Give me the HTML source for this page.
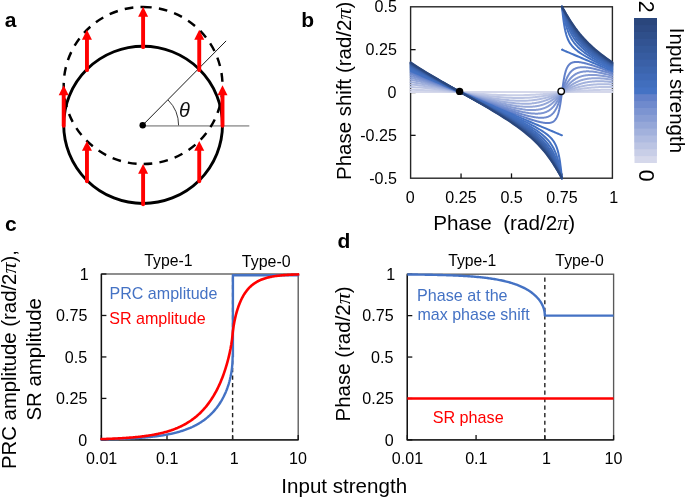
<!DOCTYPE html>
<html lang="en"><head><meta charset="utf-8"><title>Figure</title>
<style>
html,body{margin:0;padding:0;background:#fff;}
body{width:685px;height:498px;overflow:hidden;font-family:"Liberation Sans",sans-serif;}
svg{display:block;}
</style></head><body>
<svg width="685" height="498" viewBox="0 0 685 498">
<rect width="685" height="498" fill="#fff"/>
<g id="pa">
<line x1="142.7" y1="125.9" x2="249.3" y2="125.9" stroke="#a6a6a6" stroke-width="1.7"/>
<line x1="142.7" y1="125.2" x2="226.1" y2="40.9" stroke="#1a1a1a" stroke-width="1"/>
<path d="M178.6 125.4 A35.9 35.9 0 0 0 168.09 100.01" fill="none" stroke="#222" stroke-width="0.9"/>
<ellipse cx="143.1" cy="124.85" rx="79.4" ry="78.6" fill="none" stroke="#000" stroke-width="2.9"/>
<path d="M143.1 6.9 A79.4 78.6 0 1 1 143.1 164.1 A79.4 78.6 0 1 1 143.1 6.9" fill="none" stroke="#000" stroke-width="2.45" stroke-dasharray="8.7 7.2"/>
<circle cx="142.7" cy="125.2" r="3.2" fill="#000"/>
<path d="M222.5 125.75 L222.5 94.35" stroke="#ff0000" stroke-width="3.9" stroke-linecap="round" fill="none"/>
<path d="M217.5 95.25 L222.5 85.35 L227.5 95.25 Z" fill="#ff0000"/>
<path d="M199.24 70.17 L199.24 38.77" stroke="#ff0000" stroke-width="3.9" stroke-linecap="round" fill="none"/>
<path d="M194.24 39.67 L199.24 29.77 L204.24 39.67 Z" fill="#ff0000"/>
<path d="M143.1 47.15 L143.1 15.75" stroke="#ff0000" stroke-width="3.9" stroke-linecap="round" fill="none"/>
<path d="M138.1 16.65 L143.1 6.75 L148.1 16.65 Z" fill="#ff0000"/>
<path d="M86.96 70.17 L86.96 38.77" stroke="#ff0000" stroke-width="3.9" stroke-linecap="round" fill="none"/>
<path d="M81.96 39.67 L86.96 29.77 L91.96 39.67 Z" fill="#ff0000"/>
<path d="M63.7 125.75 L63.7 94.35" stroke="#ff0000" stroke-width="3.9" stroke-linecap="round" fill="none"/>
<path d="M58.7 95.25 L63.7 85.35 L68.7 95.25 Z" fill="#ff0000"/>
<path d="M86.96 181.33 L86.96 149.93" stroke="#ff0000" stroke-width="3.9" stroke-linecap="round" fill="none"/>
<path d="M81.96 150.83 L86.96 140.93 L91.96 150.83 Z" fill="#ff0000"/>
<path d="M143.1 204.35 L143.1 172.95" stroke="#ff0000" stroke-width="3.9" stroke-linecap="round" fill="none"/>
<path d="M138.1 173.85 L143.1 163.95 L148.1 173.85 Z" fill="#ff0000"/>
<path d="M199.24 181.33 L199.24 149.93" stroke="#ff0000" stroke-width="3.9" stroke-linecap="round" fill="none"/>
<path d="M194.24 150.83 L199.24 140.93 L204.24 150.83 Z" fill="#ff0000"/>
</g>
<g id="pb">
<rect x="410.6" y="6.8" width="201.8" height="171.4" fill="none" stroke="#262626" stroke-width="1.4"/>
<line x1="461.05" y1="178.2" x2="461.05" y2="173.4" stroke="#111" stroke-width="1.3"/>
<line x1="511.5" y1="178.2" x2="511.5" y2="173.4" stroke="#111" stroke-width="1.3"/>
<line x1="561.95" y1="178.2" x2="561.95" y2="173.4" stroke="#111" stroke-width="1.3"/>
<line x1="410.6" y1="49.65" x2="415.6" y2="49.65" stroke="#111" stroke-width="1.3"/>
<line x1="410.6" y1="92.5" x2="415.6" y2="92.5" stroke="#111" stroke-width="1.3"/>
<line x1="410.6" y1="135.35" x2="415.6" y2="135.35" stroke="#111" stroke-width="1.3"/>
<g fill="none" stroke-width="2.0" stroke-linecap="round" stroke-linejoin="round">
<line x1="410.6" y1="92.1" x2="612.4" y2="92.1" stroke="#d5d8eb"/>
<polyline stroke="#c8cee7" points="410.6,89.78 413.63,89.82 416.65,89.88 419.68,89.96 422.71,90.06 425.74,90.18 428.76,90.32 431.79,90.47 434.82,90.64 437.84,90.82 440.87,91.02 443.9,91.22 446.92,91.44 449.95,91.66 452.98,91.88 456,92.11 459.03,92.34 462.06,92.58 465.09,92.81 468.11,93.04 471.14,93.27 474.17,93.49 477.19,93.71 480.22,93.91 483.25,94.11 486.27,94.3 489.3,94.47 492.33,94.63 495.36,94.78 498.38,94.9 501.41,95.01 504.44,95.1 507.46,95.16 510.49,95.21 513.52,95.23 516.54,95.23 519.57,95.2 522.6,95.15 525.63,95.07 528.65,94.97 531.68,94.84 532.06,94.82 532.44,94.8 532.82,94.78 533.19,94.77 533.57,94.75 533.95,94.73 534.33,94.71 534.71,94.69 535.09,94.67 535.46,94.64 535.84,94.62 536.22,94.6 536.6,94.58 536.98,94.56 537.36,94.53 537.73,94.51 538.11,94.49 538.49,94.46 538.87,94.44 539.25,94.41 539.63,94.39 540,94.36 540.38,94.34 540.76,94.31 541.14,94.29 541.52,94.26 541.9,94.23 542.27,94.21 542.65,94.18 543.03,94.15 543.41,94.12 543.79,94.09 544.17,94.07 544.54,94.04 544.92,94.01 545.3,93.98 545.68,93.95 546.06,93.92 546.44,93.89 546.82,93.86 547.19,93.83 547.57,93.8 547.95,93.77 548.33,93.73 548.71,93.7 549.09,93.67 549.46,93.64 549.84,93.61 550.22,93.57 550.6,93.54 550.98,93.51 551.36,93.48 551.73,93.44 552.11,93.41 552.49,93.38 552.87,93.34 553.25,93.31 553.63,93.27 554,93.24 554.38,93.21 554.76,93.17 555.14,93.14 555.52,93.1 555.9,93.07 556.27,93.03 556.65,93 557.03,92.96 557.41,92.93 557.79,92.89 558.17,92.86 558.54,92.82 558.92,92.79 559.3,92.75 559.68,92.71 560.06,92.68 560.44,92.64 560.81,92.61 561.19,92.57 561.57,92.54 561.95,92.5 562.33,92.46 562.71,92.43 563.09,92.39 563.46,92.36 563.84,92.32 564.22,92.29 564.6,92.25 564.98,92.21 565.36,92.18 565.73,92.14 566.11,92.11 566.49,92.07 566.87,92.04 567.25,92 567.63,91.97 568,91.93 568.38,91.9 568.76,91.86 569.14,91.83 569.52,91.79 569.9,91.76 570.27,91.73 570.65,91.69 571.03,91.66 571.41,91.62 571.79,91.59 572.17,91.56 572.54,91.52 572.92,91.49 573.3,91.46 573.68,91.43 574.06,91.39 574.44,91.36 574.81,91.33 575.19,91.3 575.57,91.27 575.95,91.23 576.33,91.2 576.71,91.17 577.09,91.14 577.46,91.11 577.84,91.08 578.22,91.05 578.6,91.02 578.98,90.99 579.36,90.96 579.73,90.93 580.11,90.91 580.49,90.88 580.87,90.85 581.25,90.82 581.63,90.79 582,90.77 582.38,90.74 582.76,90.71 583.14,90.69 583.52,90.66 583.9,90.64 584.27,90.61 584.65,90.59 585.03,90.56 585.41,90.54 585.79,90.51 586.17,90.49 586.54,90.47 586.92,90.44 587.3,90.42 587.68,90.4 588.06,90.38 588.44,90.36 588.81,90.33 589.19,90.31 589.57,90.29 589.95,90.27 590.33,90.25 590.71,90.23 591.08,90.22 591.46,90.2 591.84,90.18 592.22,90.16 594.05,90.08 595.89,90.01 597.72,89.95 599.56,89.89 601.39,89.85 603.23,89.82 605.06,89.79 606.9,89.77 608.73,89.77 610.57,89.77 612.4,89.78"/>
<polyline stroke="#bbc4e3" points="410.6,87.12 413.63,87.24 416.65,87.39 419.68,87.59 422.71,87.82 425.74,88.08 428.76,88.37 431.79,88.68 434.82,89.02 437.84,89.38 440.87,89.75 443.9,90.14 446.92,90.54 449.95,90.95 452.98,91.36 456,91.79 459.03,92.21 462.06,92.64 465.09,93.07 468.11,93.5 471.14,93.92 474.17,94.33 477.19,94.73 480.22,95.12 483.25,95.5 486.27,95.86 489.3,96.21 492.33,96.53 495.36,96.82 498.38,97.09 501.41,97.34 504.44,97.54 507.46,97.72 510.49,97.85 513.52,97.94 516.54,97.99 519.57,97.99 522.6,97.93 525.63,97.83 528.65,97.67 531.68,97.45 532.06,97.42 532.44,97.38 532.82,97.35 533.19,97.32 533.57,97.28 533.95,97.24 534.33,97.21 534.71,97.17 535.09,97.13 535.46,97.09 535.84,97.05 536.22,97.01 536.6,96.97 536.98,96.92 537.36,96.88 537.73,96.84 538.11,96.79 538.49,96.74 538.87,96.7 539.25,96.65 539.63,96.6 540,96.55 540.38,96.5 540.76,96.44 541.14,96.39 541.52,96.34 541.9,96.28 542.27,96.23 542.65,96.17 543.03,96.11 543.41,96.06 543.79,96 544.17,95.94 544.54,95.88 544.92,95.82 545.3,95.76 545.68,95.69 546.06,95.63 546.44,95.57 546.82,95.5 547.19,95.44 547.57,95.37 547.95,95.3 548.33,95.24 548.71,95.17 549.09,95.1 549.46,95.03 549.84,94.96 550.22,94.89 550.6,94.82 550.98,94.75 551.36,94.68 551.73,94.6 552.11,94.53 552.49,94.46 552.87,94.38 553.25,94.31 553.63,94.23 554,94.16 554.38,94.08 554.76,94 555.14,93.93 555.52,93.85 555.9,93.77 556.27,93.69 556.65,93.62 557.03,93.54 557.41,93.46 557.79,93.38 558.17,93.3 558.54,93.22 558.92,93.14 559.3,93.06 559.68,92.98 560.06,92.9 560.44,92.82 560.81,92.74 561.19,92.66 561.57,92.58 561.95,92.5 562.33,92.42 562.71,92.34 563.09,92.26 563.46,92.18 563.84,92.1 564.22,92.02 564.6,91.94 564.98,91.86 565.36,91.78 565.73,91.7 566.11,91.62 566.49,91.54 566.87,91.46 567.25,91.38 567.63,91.31 568,91.23 568.38,91.15 568.76,91.07 569.14,91 569.52,90.92 569.9,90.84 570.27,90.77 570.65,90.69 571.03,90.62 571.41,90.54 571.79,90.47 572.17,90.4 572.54,90.32 572.92,90.25 573.3,90.18 573.68,90.11 574.06,90.04 574.44,89.97 574.81,89.9 575.19,89.83 575.57,89.76 575.95,89.7 576.33,89.63 576.71,89.56 577.09,89.5 577.46,89.43 577.84,89.37 578.22,89.31 578.6,89.24 578.98,89.18 579.36,89.12 579.73,89.06 580.11,89 580.49,88.94 580.87,88.89 581.25,88.83 581.63,88.77 582,88.72 582.38,88.66 582.76,88.61 583.14,88.56 583.52,88.5 583.9,88.45 584.27,88.4 584.65,88.35 585.03,88.3 585.41,88.26 585.79,88.21 586.17,88.16 586.54,88.12 586.92,88.08 587.3,88.03 587.68,87.99 588.06,87.95 588.44,87.91 588.81,87.87 589.19,87.83 589.57,87.79 589.95,87.76 590.33,87.72 590.71,87.68 591.08,87.65 591.46,87.62 591.84,87.58 592.22,87.55 594.05,87.41 595.89,87.3 597.72,87.2 599.56,87.12 601.39,87.06 603.23,87.03 605.06,87.01 606.9,87.01 608.73,87.03 610.57,87.06 612.4,87.12"/>
<polyline stroke="#afbbe0" points="410.6,84.55 413.63,84.79 416.65,85.08 419.68,85.41 422.71,85.79 425.74,86.2 428.76,86.64 431.79,87.11 434.82,87.6 437.84,88.12 440.87,88.65 443.9,89.21 446.92,89.77 449.95,90.34 452.98,90.92 456,91.51 459.03,92.1 462.06,92.7 465.09,93.29 468.11,93.88 471.14,94.46 474.17,95.04 477.19,95.61 480.22,96.16 483.25,96.7 486.27,97.23 489.3,97.73 492.33,98.21 495.36,98.66 498.38,99.08 501.41,99.47 504.44,99.82 507.46,100.12 510.49,100.38 513.52,100.58 516.54,100.72 519.57,100.8 522.6,100.8 525.63,100.73 528.65,100.57 531.68,100.32 532.06,100.28 532.44,100.24 532.82,100.2 533.19,100.15 533.57,100.11 533.95,100.06 534.33,100.02 534.71,99.97 535.09,99.91 535.46,99.86 535.84,99.81 536.22,99.75 536.6,99.69 536.98,99.64 537.36,99.57 537.73,99.51 538.11,99.45 538.49,99.38 538.87,99.31 539.25,99.24 539.63,99.17 540,99.1 540.38,99.03 540.76,98.95 541.14,98.87 541.52,98.79 541.9,98.71 542.27,98.63 542.65,98.55 543.03,98.46 543.41,98.37 543.79,98.28 544.17,98.19 544.54,98.1 544.92,98.01 545.3,97.91 545.68,97.81 546.06,97.72 546.44,97.62 546.82,97.51 547.19,97.41 547.57,97.31 547.95,97.2 548.33,97.09 548.71,96.98 549.09,96.87 549.46,96.76 549.84,96.65 550.22,96.53 550.6,96.41 550.98,96.3 551.36,96.18 551.73,96.06 552.11,95.94 552.49,95.82 552.87,95.69 553.25,95.57 553.63,95.44 554,95.32 554.38,95.19 554.76,95.06 555.14,94.93 555.52,94.8 555.9,94.67 556.27,94.54 556.65,94.41 557.03,94.27 557.41,94.14 557.79,94 558.17,93.87 558.54,93.73 558.92,93.6 559.3,93.46 559.68,93.32 560.06,93.19 560.44,93.05 560.81,92.91 561.19,92.78 561.57,92.64 561.95,92.5 562.33,92.36 562.71,92.22 563.09,92.09 563.46,91.95 563.84,91.81 564.22,91.68 564.6,91.54 564.98,91.4 565.36,91.27 565.73,91.13 566.11,91 566.49,90.86 566.87,90.73 567.25,90.59 567.63,90.46 568,90.33 568.38,90.2 568.76,90.07 569.14,89.94 569.52,89.81 569.9,89.68 570.27,89.56 570.65,89.43 571.03,89.31 571.41,89.18 571.79,89.06 572.17,88.94 572.54,88.82 572.92,88.7 573.3,88.59 573.68,88.47 574.06,88.35 574.44,88.24 574.81,88.13 575.19,88.02 575.57,87.91 575.95,87.8 576.33,87.69 576.71,87.59 577.09,87.49 577.46,87.38 577.84,87.28 578.22,87.19 578.6,87.09 578.98,86.99 579.36,86.9 579.73,86.81 580.11,86.72 580.49,86.63 580.87,86.54 581.25,86.45 581.63,86.37 582,86.29 582.38,86.21 582.76,86.13 583.14,86.05 583.52,85.97 583.9,85.9 584.27,85.83 584.65,85.76 585.03,85.69 585.41,85.62 585.79,85.55 586.17,85.49 586.54,85.43 586.92,85.36 587.3,85.31 587.68,85.25 588.06,85.19 588.44,85.14 588.81,85.09 589.19,85.03 589.57,84.98 589.95,84.94 590.33,84.89 590.71,84.85 591.08,84.8 591.46,84.76 591.84,84.72 592.22,84.68 594.05,84.52 595.89,84.39 597.72,84.29 599.56,84.23 601.39,84.19 603.23,84.19 605.06,84.21 606.9,84.26 608.73,84.33 610.57,84.43 612.4,84.55"/>
<polyline stroke="#a2b1dc" points="410.6,82.12 413.63,82.5 416.65,82.94 419.68,83.42 422.71,83.95 425.74,84.51 428.76,85.1 431.79,85.72 434.82,86.36 437.84,87.02 440.87,87.7 443.9,88.4 446.92,89.11 449.95,89.82 452.98,90.55 456,91.28 459.03,92.01 462.06,92.74 465.09,93.48 468.11,94.21 471.14,94.94 474.17,95.66 477.19,96.37 480.22,97.07 483.25,97.75 486.27,98.42 489.3,99.07 492.33,99.7 495.36,100.3 498.38,100.87 501.41,101.41 504.44,101.9 507.46,102.36 510.49,102.76 513.52,103.1 516.54,103.38 519.57,103.58 522.6,103.7 525.63,103.72 528.65,103.63 531.68,103.42 532.06,103.38 532.44,103.34 532.82,103.3 533.19,103.26 533.57,103.22 533.95,103.17 534.33,103.12 534.71,103.07 535.09,103.01 535.46,102.96 535.84,102.9 536.22,102.83 536.6,102.77 536.98,102.7 537.36,102.63 537.73,102.56 538.11,102.49 538.49,102.41 538.87,102.33 539.25,102.25 539.63,102.16 540,102.07 540.38,101.98 540.76,101.89 541.14,101.79 541.52,101.69 541.9,101.59 542.27,101.49 542.65,101.38 543.03,101.27 543.41,101.15 543.79,101.04 544.17,100.92 544.54,100.8 544.92,100.67 545.3,100.54 545.68,100.41 546.06,100.28 546.44,100.14 546.82,100 547.19,99.86 547.57,99.71 547.95,99.57 548.33,99.41 548.71,99.26 549.09,99.1 549.46,98.94 549.84,98.78 550.22,98.62 550.6,98.45 550.98,98.28 551.36,98.11 551.73,97.93 552.11,97.75 552.49,97.57 552.87,97.39 553.25,97.2 553.63,97.02 554,96.83 554.38,96.64 554.76,96.44 555.14,96.25 555.52,96.05 555.9,95.85 556.27,95.65 556.65,95.45 557.03,95.24 557.41,95.04 557.79,94.83 558.17,94.62 558.54,94.41 558.92,94.2 559.3,93.99 559.68,93.78 560.06,93.57 560.44,93.36 560.81,93.14 561.19,92.93 561.57,92.71 561.95,92.5 562.33,92.29 562.71,92.07 563.09,91.86 563.46,91.64 563.84,91.43 564.22,91.22 564.6,91.01 564.98,90.8 565.36,90.59 565.73,90.38 566.11,90.17 566.49,89.96 566.87,89.76 567.25,89.55 567.63,89.35 568,89.15 568.38,88.95 568.76,88.75 569.14,88.56 569.52,88.36 569.9,88.17 570.27,87.98 570.65,87.8 571.03,87.61 571.41,87.43 571.79,87.25 572.17,87.07 572.54,86.89 572.92,86.72 573.3,86.55 573.68,86.38 574.06,86.22 574.44,86.06 574.81,85.9 575.19,85.74 575.57,85.59 575.95,85.43 576.33,85.29 576.71,85.14 577.09,85 577.46,84.86 577.84,84.72 578.22,84.59 578.6,84.46 578.98,84.33 579.36,84.2 579.73,84.08 580.11,83.96 580.49,83.85 580.87,83.73 581.25,83.62 581.63,83.51 582,83.41 582.38,83.31 582.76,83.21 583.14,83.11 583.52,83.02 583.9,82.93 584.27,82.84 584.65,82.75 585.03,82.67 585.41,82.59 585.79,82.51 586.17,82.44 586.54,82.37 586.92,82.3 587.3,82.23 587.68,82.17 588.06,82.1 588.44,82.04 588.81,81.99 589.19,81.93 589.57,81.88 589.95,81.83 590.33,81.78 590.71,81.74 591.08,81.7 591.46,81.66 591.84,81.62 592.22,81.58 594.05,81.44 595.89,81.34 597.72,81.29 599.56,81.27 601.39,81.3 603.23,81.36 605.06,81.46 606.9,81.58 608.73,81.74 610.57,81.92 612.4,82.12"/>
<polyline stroke="#95a7d8" points="410.6,79.85 413.63,80.39 416.65,80.99 419.68,81.62 422.71,82.29 425.74,83 428.76,83.73 431.79,84.49 434.82,85.27 437.84,86.06 440.87,86.87 443.9,87.7 446.92,88.53 449.95,89.37 452.98,90.22 456,91.07 459.03,91.93 462.06,92.79 465.09,93.64 468.11,94.5 471.14,95.35 474.17,96.19 477.19,97.03 480.22,97.85 483.25,98.67 486.27,99.47 489.3,100.25 492.33,101.02 495.36,101.76 498.38,102.47 501.41,103.16 504.44,103.81 507.46,104.41 510.49,104.97 513.52,105.48 516.54,105.92 519.57,106.28 522.6,106.56 525.63,106.73 528.65,106.78 531.68,106.69 532.06,106.67 532.44,106.64 532.82,106.62 533.19,106.58 533.57,106.55 533.95,106.51 534.33,106.48 534.71,106.43 535.09,106.39 535.46,106.34 535.84,106.29 536.22,106.23 536.6,106.17 536.98,106.11 537.36,106.05 537.73,105.98 538.11,105.9 538.49,105.83 538.87,105.75 539.25,105.66 539.63,105.58 540,105.49 540.38,105.39 540.76,105.29 541.14,105.19 541.52,105.08 541.9,104.97 542.27,104.85 542.65,104.73 543.03,104.61 543.41,104.48 543.79,104.34 544.17,104.2 544.54,104.06 544.92,103.91 545.3,103.76 545.68,103.6 546.06,103.44 546.44,103.27 546.82,103.1 547.19,102.92 547.57,102.74 547.95,102.55 548.33,102.36 548.71,102.16 549.09,101.96 549.46,101.75 549.84,101.54 550.22,101.32 550.6,101.1 550.98,100.87 551.36,100.63 551.73,100.4 552.11,100.15 552.49,99.9 552.87,99.65 553.25,99.39 553.63,99.13 554,98.86 554.38,98.59 554.76,98.32 555.14,98.04 555.52,97.75 555.9,97.47 556.27,97.18 556.65,96.88 557.03,96.58 557.41,96.28 557.79,95.98 558.17,95.67 558.54,95.36 558.92,95.05 559.3,94.73 559.68,94.42 560.06,94.1 560.44,93.78 560.81,93.46 561.19,93.14 561.57,92.82 561.95,92.5 562.33,92.18 562.71,91.86 563.09,91.54 563.46,91.22 563.84,90.9 564.22,90.58 564.6,90.27 564.98,89.95 565.36,89.64 565.73,89.33 566.11,89.02 566.49,88.72 566.87,88.42 567.25,88.12 567.63,87.82 568,87.53 568.38,87.25 568.76,86.96 569.14,86.68 569.52,86.41 569.9,86.14 570.27,85.87 570.65,85.61 571.03,85.35 571.41,85.1 571.79,84.85 572.17,84.6 572.54,84.37 572.92,84.13 573.3,83.9 573.68,83.68 574.06,83.46 574.44,83.25 574.81,83.04 575.19,82.84 575.57,82.64 575.95,82.45 576.33,82.26 576.71,82.08 577.09,81.9 577.46,81.73 577.84,81.56 578.22,81.4 578.6,81.24 578.98,81.09 579.36,80.94 579.73,80.8 580.11,80.66 580.49,80.52 580.87,80.39 581.25,80.27 581.63,80.15 582,80.03 582.38,79.92 582.76,79.81 583.14,79.71 583.52,79.61 583.9,79.51 584.27,79.42 584.65,79.34 585.03,79.25 585.41,79.17 585.79,79.1 586.17,79.02 586.54,78.95 586.92,78.89 587.3,78.83 587.68,78.77 588.06,78.71 588.44,78.66 588.81,78.61 589.19,78.57 589.57,78.52 589.95,78.49 590.33,78.45 590.71,78.42 591.08,78.38 591.46,78.36 591.84,78.33 592.22,78.31 594.05,78.24 595.89,78.22 597.72,78.25 599.56,78.33 601.39,78.45 603.23,78.61 605.06,78.8 606.9,79.02 608.73,79.27 610.57,79.55 612.4,79.85"/>
<polyline stroke="#889dd4" points="410.6,77.76 413.63,78.46 416.65,79.21 419.68,79.99 422.71,80.81 425.74,81.65 428.76,82.51 431.79,83.4 434.82,84.3 437.84,85.21 440.87,86.14 443.9,87.08 446.92,88.02 449.95,88.98 452.98,89.93 456,90.89 459.03,91.86 462.06,92.82 465.09,93.78 468.11,94.75 471.14,95.71 474.17,96.66 477.19,97.61 480.22,98.55 483.25,99.48 486.27,100.4 489.3,101.3 492.33,102.19 495.36,103.06 498.38,103.91 501.41,104.74 504.44,105.53 507.46,106.29 510.49,107.01 513.52,107.68 516.54,108.3 519.57,108.85 522.6,109.32 525.63,109.69 528.65,109.94 531.68,110.05 532.06,110.05 532.44,110.05 532.82,110.05 533.19,110.04 533.57,110.03 533.95,110.02 534.33,110.01 534.71,109.99 535.09,109.96 535.46,109.94 535.84,109.91 536.22,109.87 536.6,109.84 536.98,109.8 537.36,109.75 537.73,109.7 538.11,109.65 538.49,109.59 538.87,109.53 539.25,109.46 539.63,109.39 540,109.31 540.38,109.23 540.76,109.15 541.14,109.05 541.52,108.96 541.9,108.86 542.27,108.75 542.65,108.63 543.03,108.51 543.41,108.39 543.79,108.25 544.17,108.11 544.54,107.97 544.92,107.82 545.3,107.66 545.68,107.49 546.06,107.32 546.44,107.13 546.82,106.95 547.19,106.75 547.57,106.54 547.95,106.33 548.33,106.11 548.71,105.88 549.09,105.64 549.46,105.39 549.84,105.14 550.22,104.87 550.6,104.6 550.98,104.32 551.36,104.02 551.73,103.72 552.11,103.41 552.49,103.09 552.87,102.76 553.25,102.42 553.63,102.07 554,101.72 554.38,101.35 554.76,100.97 555.14,100.59 555.52,100.19 555.9,99.79 556.27,99.38 556.65,98.96 557.03,98.53 557.41,98.1 557.79,97.66 558.17,97.21 558.54,96.76 558.92,96.3 559.3,95.84 559.68,95.37 560.06,94.9 560.44,94.42 560.81,93.94 561.19,93.46 561.57,92.98 561.95,92.5 562.33,92.02 562.71,91.54 563.09,91.06 563.46,90.58 563.84,90.1 564.22,89.63 564.6,89.16 564.98,88.7 565.36,88.24 565.73,87.79 566.11,87.34 566.49,86.9 566.87,86.47 567.25,86.04 567.63,85.62 568,85.21 568.38,84.81 568.76,84.41 569.14,84.03 569.52,83.65 569.9,83.28 570.27,82.93 570.65,82.58 571.03,82.24 571.41,81.91 571.79,81.59 572.17,81.28 572.54,80.98 572.92,80.68 573.3,80.4 573.68,80.13 574.06,79.86 574.44,79.61 574.81,79.36 575.19,79.12 575.57,78.89 575.95,78.67 576.33,78.46 576.71,78.25 577.09,78.05 577.46,77.87 577.84,77.68 578.22,77.51 578.6,77.34 578.98,77.18 579.36,77.03 579.73,76.89 580.11,76.75 580.49,76.61 580.87,76.49 581.25,76.37 581.63,76.25 582,76.14 582.38,76.04 582.76,75.95 583.14,75.85 583.52,75.77 583.9,75.69 584.27,75.61 584.65,75.54 585.03,75.47 585.41,75.41 585.79,75.35 586.17,75.3 586.54,75.25 586.92,75.2 587.3,75.16 587.68,75.13 588.06,75.09 588.44,75.06 588.81,75.04 589.19,75.01 589.57,74.99 589.95,74.98 590.33,74.97 590.71,74.96 591.08,74.95 591.46,74.95 591.84,74.95 592.22,74.95 594.05,75 595.89,75.1 597.72,75.26 599.56,75.46 601.39,75.7 603.23,75.97 605.06,76.28 606.9,76.61 608.73,76.97 610.57,77.35 612.4,77.76"/>
<polyline stroke="#7c94d1" points="410.6,75.84 413.63,76.7 416.65,77.6 419.68,78.52 422.71,79.47 425.74,80.44 428.76,81.43 431.79,82.43 434.82,83.44 437.84,84.46 440.87,85.49 443.9,86.53 446.92,87.58 449.95,88.63 452.98,89.68 456,90.74 459.03,91.79 462.06,92.85 465.09,93.91 468.11,94.97 471.14,96.02 474.17,97.07 477.19,98.12 480.22,99.16 483.25,100.2 486.27,101.22 489.3,102.24 492.33,103.24 495.36,104.23 498.38,105.21 501.41,106.16 504.44,107.09 507.46,108 510.49,108.88 513.52,109.71 516.54,110.51 519.57,111.25 522.6,111.93 525.63,112.53 528.65,113.02 531.68,113.4 532.06,113.44 532.44,113.47 532.82,113.5 533.19,113.53 533.57,113.56 533.95,113.58 534.33,113.6 534.71,113.62 535.09,113.63 535.46,113.64 535.84,113.65 536.22,113.65 536.6,113.65 536.98,113.65 537.36,113.64 537.73,113.63 538.11,113.61 538.49,113.59 538.87,113.57 539.25,113.54 539.63,113.5 540,113.46 540.38,113.42 540.76,113.37 541.14,113.31 541.52,113.25 541.9,113.18 542.27,113.11 542.65,113.03 543.03,112.94 543.41,112.85 543.79,112.75 544.17,112.64 544.54,112.52 544.92,112.39 545.3,112.26 545.68,112.12 546.06,111.97 546.44,111.8 546.82,111.63 547.19,111.45 547.57,111.26 547.95,111.05 548.33,110.83 548.71,110.61 549.09,110.37 549.46,110.11 549.84,109.84 550.22,109.56 550.6,109.27 550.98,108.96 551.36,108.63 551.73,108.29 552.11,107.93 552.49,107.55 552.87,107.16 553.25,106.75 553.63,106.32 554,105.87 554.38,105.4 554.76,104.92 555.14,104.41 555.52,103.89 555.9,103.34 556.27,102.78 556.65,102.2 557.03,101.6 557.41,100.98 557.79,100.34 558.17,99.69 558.54,99.02 558.92,98.34 559.3,97.64 559.68,96.93 560.06,96.21 560.44,95.48 560.81,94.74 561.19,94 561.57,93.25 561.95,92.5 562.33,91.75 562.71,91 563.09,90.26 563.46,89.52 563.84,88.79 564.22,88.07 564.6,87.36 564.98,86.66 565.36,85.98 565.73,85.31 566.11,84.66 566.49,84.02 566.87,83.4 567.25,82.8 567.63,82.22 568,81.66 568.38,81.11 568.76,80.59 569.14,80.08 569.52,79.6 569.9,79.13 570.27,78.68 570.65,78.25 571.03,77.84 571.41,77.45 571.79,77.07 572.17,76.71 572.54,76.37 572.92,76.04 573.3,75.73 573.68,75.44 574.06,75.16 574.44,74.89 574.81,74.63 575.19,74.39 575.57,74.17 575.95,73.95 576.33,73.74 576.71,73.55 577.09,73.37 577.46,73.2 577.84,73.03 578.22,72.88 578.6,72.74 578.98,72.61 579.36,72.48 579.73,72.36 580.11,72.25 580.49,72.15 580.87,72.06 581.25,71.97 581.63,71.89 582,71.82 582.38,71.75 582.76,71.69 583.14,71.63 583.52,71.58 583.9,71.54 584.27,71.5 584.65,71.46 585.03,71.43 585.41,71.41 585.79,71.39 586.17,71.37 586.54,71.36 586.92,71.35 587.3,71.35 587.68,71.35 588.06,71.35 588.44,71.36 588.81,71.37 589.19,71.38 589.57,71.4 589.95,71.42 590.33,71.44 590.71,71.47 591.08,71.5 591.46,71.53 591.84,71.56 592.22,71.6 594.05,71.81 595.89,72.07 597.72,72.38 599.56,72.72 601.39,73.09 603.23,73.49 605.06,73.92 606.9,74.37 608.73,74.85 610.57,75.33 612.4,75.84"/>
<polyline stroke="#6f8acd" points="410.6,74.09 413.63,75.11 416.65,76.15 419.68,77.2 422.71,78.27 425.74,79.36 428.76,80.45 431.79,81.56 434.82,82.67 437.84,83.79 440.87,84.91 443.9,86.04 446.92,87.18 449.95,88.32 452.98,89.45 456,90.6 459.03,91.74 462.06,92.88 465.09,94.02 468.11,95.16 471.14,96.3 474.17,97.44 477.19,98.58 480.22,99.71 483.25,100.84 486.27,101.96 489.3,103.07 492.33,104.18 495.36,105.28 498.38,106.37 501.41,107.44 504.44,108.5 507.46,109.55 510.49,110.57 513.52,111.57 516.54,112.54 519.57,113.47 522.6,114.36 525.63,115.2 528.65,115.96 531.68,116.64 532.06,116.72 532.44,116.79 532.82,116.86 533.19,116.93 533.57,117 533.95,117.07 534.33,117.14 534.71,117.2 535.09,117.26 535.46,117.32 535.84,117.37 536.22,117.42 536.6,117.47 536.98,117.52 537.36,117.56 537.73,117.6 538.11,117.64 538.49,117.67 538.87,117.7 539.25,117.73 539.63,117.75 540,117.77 540.38,117.78 540.76,117.79 541.14,117.8 541.52,117.79 541.9,117.79 542.27,117.78 542.65,117.76 543.03,117.74 543.41,117.71 543.79,117.67 544.17,117.63 544.54,117.58 544.92,117.52 545.3,117.45 545.68,117.38 546.06,117.3 546.44,117.2 546.82,117.1 547.19,116.98 547.57,116.86 547.95,116.72 548.33,116.57 548.71,116.4 549.09,116.23 549.46,116.03 549.84,115.82 550.22,115.59 550.6,115.35 550.98,115.08 551.36,114.79 551.73,114.49 552.11,114.15 552.49,113.8 552.87,113.41 553.25,113 553.63,112.56 554,112.08 554.38,111.57 554.76,111.03 555.14,110.45 555.52,109.82 555.9,109.16 556.27,108.45 556.65,107.7 557.03,106.9 557.41,106.05 557.79,105.15 558.17,104.2 558.54,103.21 558.92,102.16 559.3,101.07 559.68,99.94 560.06,98.77 560.44,97.56 560.81,96.32 561.19,95.06 561.57,93.78 561.95,92.5 562.33,91.22 562.71,89.94 563.09,88.68 563.46,87.44 563.84,86.23 564.22,85.06 564.6,83.93 564.98,82.84 565.36,81.79 565.73,80.8 566.11,79.85 566.49,78.95 566.87,78.1 567.25,77.3 567.63,76.55 568,75.84 568.38,75.18 568.76,74.55 569.14,73.97 569.52,73.43 569.9,72.92 570.27,72.44 570.65,72 571.03,71.59 571.41,71.2 571.79,70.85 572.17,70.51 572.54,70.21 572.92,69.92 573.3,69.65 573.68,69.41 574.06,69.18 574.44,68.97 574.81,68.77 575.19,68.6 575.57,68.43 575.95,68.28 576.33,68.14 576.71,68.02 577.09,67.9 577.46,67.8 577.84,67.7 578.22,67.62 578.6,67.55 578.98,67.48 579.36,67.42 579.73,67.37 580.11,67.33 580.49,67.29 580.87,67.26 581.25,67.24 581.63,67.22 582,67.21 582.38,67.21 582.76,67.2 583.14,67.21 583.52,67.22 583.9,67.23 584.27,67.25 584.65,67.27 585.03,67.3 585.41,67.33 585.79,67.36 586.17,67.4 586.54,67.44 586.92,67.48 587.3,67.53 587.68,67.58 588.06,67.63 588.44,67.68 588.81,67.74 589.19,67.8 589.57,67.86 589.95,67.93 590.33,68 590.71,68.07 591.08,68.14 591.46,68.21 591.84,68.28 592.22,68.36 594.05,68.76 595.89,69.19 597.72,69.66 599.56,70.15 601.39,70.67 603.23,71.2 605.06,71.75 606.9,72.32 608.73,72.9 610.57,73.49 612.4,74.09"/>
<polyline stroke="#6280c9" points="410.6,72.51 413.63,73.67 416.65,74.83 419.68,76.01 422.71,77.19 425.74,78.38 428.76,79.58 431.79,80.78 434.82,81.98 437.84,83.19 440.87,84.4 443.9,85.61 446.92,86.82 449.95,88.04 452.98,89.25 456,90.47 459.03,91.69 462.06,92.91 465.09,94.12 468.11,95.34 471.14,96.56 474.17,97.77 477.19,98.99 480.22,100.2 483.25,101.41 486.27,102.62 489.3,103.82 492.33,105.02 495.36,106.22 498.38,107.41 501.41,108.6 504.44,109.78 507.46,110.95 510.49,112.11 513.52,113.25 516.54,114.39 519.57,115.5 522.6,116.6 525.63,117.67 528.65,118.7 531.68,119.69 532.06,119.81 532.44,119.93 532.82,120.04 533.19,120.16 533.57,120.28 533.95,120.39 534.33,120.5 534.71,120.61 535.09,120.73 535.46,120.84 535.84,120.94 536.22,121.05 536.6,121.16 536.98,121.26 537.36,121.36 537.73,121.46 538.11,121.56 538.49,121.66 538.87,121.75 539.25,121.84 539.63,121.93 540,122.02 540.38,122.11 540.76,122.19 541.14,122.27 541.52,122.35 541.9,122.42 542.27,122.5 542.65,122.56 543.03,122.63 543.41,122.69 543.79,122.75 544.17,122.8 544.54,122.85 544.92,122.89 545.3,122.93 545.68,122.97 546.06,123 546.44,123.02 546.82,123.04 547.19,123.04 547.57,123.05 547.95,123.04 548.33,123.02 548.71,123 549.09,122.97 549.46,122.92 549.84,122.86 550.22,122.79 550.6,122.71 550.98,122.61 551.36,122.5 551.73,122.36 552.11,122.21 552.49,122.03 552.87,121.83 553.25,121.6 553.63,121.34 554,121.05 554.38,120.72 554.76,120.35 555.14,119.93 555.52,119.46 555.9,118.92 556.27,118.32 556.65,117.63 557.03,116.86 557.41,115.98 557.79,114.99 558.17,113.87 558.54,112.59 558.92,111.14 559.3,109.51 559.68,107.67 560.06,105.62 560.44,103.34 560.81,100.86 561.19,98.19 561.57,95.38 561.95,92.5 562.33,89.62 562.71,86.81 563.09,84.14 563.46,81.66 563.84,79.38 564.22,77.33 564.6,75.49 564.98,73.86 565.36,72.41 565.73,71.13 566.11,70.01 566.49,69.02 566.87,68.14 567.25,67.37 567.63,66.68 568,66.08 568.38,65.54 568.76,65.07 569.14,64.65 569.52,64.28 569.9,63.95 570.27,63.66 570.65,63.4 571.03,63.17 571.41,62.97 571.79,62.79 572.17,62.64 572.54,62.5 572.92,62.39 573.3,62.29 573.68,62.21 574.06,62.14 574.44,62.08 574.81,62.03 575.19,62 575.57,61.98 575.95,61.96 576.33,61.95 576.71,61.96 577.09,61.96 577.46,61.98 577.84,62 578.22,62.03 578.6,62.07 578.98,62.11 579.36,62.15 579.73,62.2 580.11,62.25 580.49,62.31 580.87,62.37 581.25,62.44 581.63,62.5 582,62.58 582.38,62.65 582.76,62.73 583.14,62.81 583.52,62.89 583.9,62.98 584.27,63.07 584.65,63.16 585.03,63.25 585.41,63.34 585.79,63.44 586.17,63.54 586.54,63.64 586.92,63.74 587.3,63.84 587.68,63.95 588.06,64.06 588.44,64.16 588.81,64.27 589.19,64.39 589.57,64.5 589.95,64.61 590.33,64.72 590.71,64.84 591.08,64.96 591.46,65.07 591.84,65.19 592.22,65.31 594.05,65.91 595.89,66.52 597.72,67.14 599.56,67.78 601.39,68.43 603.23,69.09 605.06,69.76 606.9,70.44 608.73,71.12 610.57,71.81 612.4,72.51"/>
<polyline stroke="#4472c4" points="410.6,71.08 413.63,72.36 416.65,73.65 419.68,74.93 422.71,76.22 425.74,77.5 428.76,78.79 431.79,80.07 434.82,81.36 437.84,82.64 440.87,83.93 443.9,85.22 446.92,86.5 449.95,87.79 452.98,89.07 456,90.36 459.03,91.64 462.06,92.93 465.09,94.21 468.11,95.5 471.14,96.78 474.17,98.07 477.19,99.36 480.22,100.64 483.25,101.93 486.27,103.21 489.3,104.5 492.33,105.78 495.36,107.07 498.38,108.35 501.41,109.64 504.44,110.93 507.46,112.21 510.49,113.5 513.52,114.78 516.54,116.07 519.57,117.35 522.6,118.64 525.63,119.92 528.65,121.21 531.68,122.49 534.82,123.83 537.63,125.02 540.15,126.09 542.4,127.05 544.43,127.91 546.24,128.68 547.87,129.37 549.33,129.99 550.64,130.55 551.81,131.04 552.86,131.49 553.8,131.89 554.64,132.25 555.4,132.57 556.08,132.86 556.69,133.11 557.23,133.35 557.72,133.55 558.16,133.74 558.55,133.91 558.9,134.06 559.22,134.19 559.5,134.31 559.76,134.42 559.98,134.51 560.19,134.6 560.37,134.68 560.53,134.75 560.68,134.81 560.81,134.87 560.93,134.92 561.03,134.96 561.13,135 561.21,135.04 561.29,135.07 561.36,135.1 561.42,135.13 561.48,135.15 561.52,135.17 561.57,135.19 561.61,135.2 561.64,135.22 561.68,135.23 561.7,135.25 561.73,135.26 561.75,135.27 561.77,135.27 561.79,135.28 561.81,135.29 561.82,135.3 561.84,135.3 561.85,135.31 561.86,135.31 561.87,135.31 561.88,135.32 561.88,135.32 561.89,135.32 561.9,135.33 561.9,135.33 561.91,135.33 561.91,135.33 561.92,135.34 561.92,135.34 561.92,135.34 561.93,135.34 561.93,135.34 561.93,135.34 561.93,135.34 561.93,135.34 561.94,135.34 561.94,135.34 561.94,135.35 561.94,135.35 561.94,135.35 561.94,135.35 561.94,135.35 561.94,135.35 561.94,135.35 561.94,135.35 561.95,135.35 561.95,135.35 561.95,135.35 561.95,135.35 561.95,135.35 561.95,135.35 561.95,135.35 561.95,135.35 561.95,135.35 561.95,135.35 561.95,135.35 561.95,135.35 561.95,135.35 561.95,135.35 561.95,135.35 561.95,135.35 561.95,135.35 561.95,135.35 561.95,135.35 561.95,135.35 561.95,135.35 561.95,135.35 561.95,135.35 561.95,135.35 561.95,135.35 561.95,135.35 561.95,135.35 561.95,135.35 561.95,135.35 561.95,135.35"/>
<polyline stroke="#4472c4" points="561.95,49.65 561.95,49.65 561.95,49.65 561.95,49.65 561.95,49.65 561.95,49.65 561.95,49.65 561.95,49.65 561.95,49.65 561.95,49.65 561.95,49.65 561.95,49.65 561.95,49.65 561.95,49.65 561.95,49.65 561.95,49.65 561.95,49.65 561.95,49.65 561.95,49.65 561.95,49.65 561.95,49.65 561.95,49.65 561.95,49.65 561.95,49.65 561.95,49.65 561.96,49.65 561.96,49.65 561.96,49.65 561.96,49.65 561.96,49.65 561.96,49.65 561.96,49.65 561.96,49.66 561.96,49.66 561.97,49.66 561.97,49.66 561.97,49.66 561.97,49.66 561.98,49.66 561.98,49.66 561.99,49.67 561.99,49.67 562,49.67 562,49.67 562.01,49.68 562.02,49.68 562.03,49.68 562.04,49.69 562.05,49.69 562.06,49.7 562.08,49.71 562.1,49.71 562.12,49.72 562.14,49.73 562.17,49.74 562.2,49.76 562.23,49.77 562.27,49.79 562.32,49.81 562.37,49.83 562.42,49.85 562.49,49.88 562.56,49.91 562.65,49.95 562.75,49.99 562.85,50.03 562.98,50.09 563.12,50.15 563.28,50.22 563.47,50.29 563.68,50.38 563.92,50.49 564.19,50.6 564.5,50.73 564.85,50.88 565.25,51.05 565.7,51.24 566.22,51.46 566.81,51.72 567.49,52 568.25,52.33 569.12,52.69 570.11,53.12 571.24,53.59 572.52,54.14 573.98,54.76 575.64,55.46 577.53,56.27 579.68,57.18 582.13,58.22 584.15,59.08 586.32,60 588.49,60.92 590.67,61.85 592.84,62.77 595.01,63.69 597.19,64.61 599.36,65.54 601.53,66.46 603.71,67.38 605.88,68.31 608.05,69.23 610.23,70.15 612.4,71.08"/>
<polyline stroke="#4471c3" points="410.6,69.78 413.63,71.18 416.65,72.57 419.68,73.96 422.71,75.33 425.74,76.71 428.76,78.07 431.79,79.44 434.82,80.8 437.84,82.15 440.87,83.51 443.9,84.86 446.92,86.21 449.95,87.56 452.98,88.91 456,90.26 459.03,91.6 462.06,92.95 465.09,94.3 468.11,95.64 471.14,96.99 474.17,98.34 477.19,99.69 480.22,101.04 483.25,102.39 486.27,103.75 489.3,105.11 492.33,106.47 495.36,107.84 498.38,109.21 501.41,110.58 504.44,111.97 507.46,113.36 510.49,114.75 513.52,116.16 516.54,117.59 519.57,119.03 522.6,120.48 525.63,121.97 528.65,123.48 531.68,125.04 534.82,126.71 537.63,128.27 540.15,129.75 542.4,131.15 544.43,132.51 546.24,133.82 547.87,135.12 549.33,136.4 550.64,137.68 551.81,138.97 552.86,140.29 553.8,141.63 554.64,143.02 555.4,144.45 556.08,145.93 556.69,147.45 557.23,149.02 557.72,150.62 558.16,152.24 558.55,153.89 558.9,155.53 559.22,157.15 559.5,158.74 559.76,160.29 559.98,161.77 560.19,163.18 560.37,164.51 560.53,165.76 560.68,166.92 560.81,167.99 560.93,168.98 561.03,169.88 561.13,170.7 561.21,171.45 561.29,172.13 561.36,172.74 561.42,173.3 561.48,173.8 561.52,174.25 561.57,174.65 561.61,175.02 561.64,175.34 561.68,175.64 561.7,175.9 561.73,176.14 561.75,176.35 561.77,176.54 561.79,176.71 561.81,176.87 561.82,177.01 561.84,177.13 561.85,177.24 561.86,177.34 561.87,177.43 561.88,177.51 561.88,177.58 561.89,177.64 561.9,177.7 561.9,177.75 561.91,177.8 561.91,177.84 561.92,177.88 561.92,177.91 561.92,177.94 561.93,177.97 561.93,177.99 561.93,178.01 561.93,178.03 561.93,178.05 561.94,178.07 561.94,178.08 561.94,178.09 561.94,178.1 561.94,178.11 561.94,178.12 561.94,178.13 561.94,178.14 561.94,178.14 561.94,178.15 561.95,178.16 561.95,178.16 561.95,178.16 561.95,178.17 561.95,178.17 561.95,178.17 561.95,178.18 561.95,178.18 561.95,178.18 561.95,178.18 561.95,178.18 561.95,178.19 561.95,178.19 561.95,178.19 561.95,178.19 561.95,178.19 561.95,178.19 561.95,178.19 561.95,178.19 561.95,178.19 561.95,178.19 561.95,178.2 561.95,178.2 561.95,178.2 561.95,178.2 561.95,178.2 561.95,178.2 561.95,178.2 561.95,178.2 561.95,178.2"/>
<polyline stroke="#4471c3" points="561.95,6.8 561.95,6.8 561.95,6.8 561.95,6.8 561.95,6.8 561.95,6.8 561.95,6.8 561.95,6.8 561.95,6.81 561.95,6.81 561.95,6.81 561.95,6.81 561.95,6.81 561.95,6.81 561.95,6.81 561.95,6.81 561.95,6.81 561.95,6.82 561.95,6.82 561.95,6.82 561.95,6.83 561.95,6.83 561.95,6.83 561.95,6.84 561.95,6.84 561.96,6.85 561.96,6.85 561.96,6.86 561.96,6.87 561.96,6.88 561.96,6.89 561.96,6.9 561.96,6.92 561.96,6.93 561.97,6.95 561.97,6.97 561.97,7 561.97,7.03 561.98,7.06 561.98,7.09 561.99,7.13 561.99,7.18 562,7.23 562,7.29 562.01,7.36 562.02,7.44 562.03,7.52 562.04,7.62 562.05,7.74 562.06,7.87 562.08,8.01 562.1,8.18 562.12,8.37 562.14,8.59 562.17,8.83 562.2,9.11 562.23,9.43 562.27,9.79 562.32,10.2 562.37,10.67 562.42,11.19 562.49,11.79 562.56,12.46 562.65,13.22 562.75,14.08 562.85,15.03 562.98,16.1 563.12,17.28 563.28,18.59 563.47,20.01 563.68,21.56 563.92,23.23 564.19,24.99 564.5,26.83 564.85,28.73 565.25,30.67 565.7,32.61 566.22,34.54 566.81,36.42 567.49,38.26 568.25,40.03 569.12,41.73 570.11,43.38 571.24,44.97 572.52,46.52 573.98,48.04 575.64,49.55 577.53,51.08 579.68,52.64 582.13,54.25 584.15,55.49 586.32,56.76 588.49,57.97 590.67,59.15 592.84,60.29 595.01,61.4 597.19,62.49 599.36,63.57 601.53,64.63 603.71,65.68 605.88,66.71 608.05,67.74 610.23,68.76 612.4,69.78"/>
<polyline stroke="#4370c0" points="410.6,68.6 413.63,70.11 416.65,71.6 419.68,73.07 422.71,74.53 425.74,75.98 428.76,77.43 431.79,78.86 434.82,80.29 437.84,81.71 440.87,83.12 443.9,84.54 446.92,85.95 449.95,87.35 452.98,88.76 456,90.16 459.03,91.57 462.06,92.97 465.09,94.37 468.11,95.77 471.14,97.18 474.17,98.58 477.19,99.99 480.22,101.4 483.25,102.82 486.27,104.24 489.3,105.66 492.33,107.1 495.36,108.53 498.38,109.98 501.41,111.44 504.44,112.91 507.46,114.39 510.49,115.89 513.52,117.41 516.54,118.96 519.57,120.54 522.6,122.15 525.63,123.81 528.65,125.52 531.68,127.31 534.82,129.27 537.63,131.15 540.15,132.96 542.4,134.74 544.43,136.48 546.24,138.21 547.87,139.94 549.33,141.68 550.64,143.43 551.81,145.19 552.86,146.98 553.8,148.78 554.64,150.58 555.4,152.39 556.08,154.17 556.69,155.93 557.23,157.64 557.72,159.29 558.16,160.87 558.55,162.37 558.9,163.78 559.22,165.1 559.5,166.33 559.76,167.46 559.98,168.5 560.19,169.45 560.37,170.32 560.53,171.1 560.68,171.82 560.81,172.46 560.93,173.05 561.03,173.57 561.13,174.04 561.21,174.47 561.29,174.85 561.36,175.2 561.42,175.51 561.48,175.79 561.52,176.03 561.57,176.26 561.61,176.46 561.64,176.64 561.68,176.8 561.7,176.95 561.73,177.08 561.75,177.19 561.77,177.3 561.79,177.39 561.81,177.47 561.82,177.55 561.84,177.62 561.85,177.68 561.86,177.73 561.87,177.78 561.88,177.82 561.88,177.86 561.89,177.9 561.9,177.93 561.9,177.96 561.91,177.98 561.91,178 561.92,178.02 561.92,178.04 561.92,178.06 561.93,178.07 561.93,178.09 561.93,178.1 561.93,178.11 561.93,178.12 561.94,178.13 561.94,178.13 561.94,178.14 561.94,178.15 561.94,178.15 561.94,178.16 561.94,178.16 561.94,178.17 561.94,178.17 561.94,178.17 561.95,178.18 561.95,178.18 561.95,178.18 561.95,178.18 561.95,178.18 561.95,178.19 561.95,178.19 561.95,178.19 561.95,178.19 561.95,178.19 561.95,178.19 561.95,178.19 561.95,178.19 561.95,178.19 561.95,178.19 561.95,178.2 561.95,178.2 561.95,178.2 561.95,178.2 561.95,178.2 561.95,178.2 561.95,178.2 561.95,178.2 561.95,178.2 561.95,178.2 561.95,178.2 561.95,178.2 561.95,178.2 561.95,178.2 561.95,178.2"/>
<polyline stroke="#4370c0" points="561.95,6.8 561.95,6.8 561.95,6.8 561.95,6.8 561.95,6.8 561.95,6.8 561.95,6.8 561.95,6.8 561.95,6.8 561.95,6.8 561.95,6.8 561.95,6.8 561.95,6.8 561.95,6.81 561.95,6.81 561.95,6.81 561.95,6.81 561.95,6.81 561.95,6.81 561.95,6.81 561.95,6.81 561.95,6.82 561.95,6.82 561.95,6.82 561.95,6.82 561.96,6.83 561.96,6.83 561.96,6.83 561.96,6.84 561.96,6.84 561.96,6.85 561.96,6.86 561.96,6.86 561.96,6.87 561.97,6.88 561.97,6.9 561.97,6.91 561.97,6.92 561.98,6.94 561.98,6.96 561.99,6.98 561.99,7.01 562,7.04 562,7.07 562.01,7.1 562.02,7.15 562.03,7.19 562.04,7.25 562.05,7.31 562.06,7.38 562.08,7.46 562.1,7.55 562.12,7.66 562.14,7.78 562.17,7.91 562.2,8.06 562.23,8.24 562.27,8.44 562.32,8.66 562.37,8.92 562.42,9.21 562.49,9.54 562.56,9.92 562.65,10.34 562.75,10.83 562.85,11.38 562.98,12 563.12,12.7 563.28,13.49 563.47,14.38 563.68,15.38 563.92,16.5 564.19,17.74 564.5,19.11 564.85,20.61 565.25,22.24 565.7,24 566.22,25.87 566.81,27.84 567.49,29.88 568.25,31.98 569.12,34.1 570.11,36.24 571.24,38.37 572.52,40.47 573.98,42.55 575.64,44.61 577.53,46.66 579.68,48.71 582.13,50.78 584.15,52.33 586.32,53.88 588.49,55.35 590.67,56.73 592.84,58.06 595.01,59.34 597.19,60.59 599.36,61.8 601.53,62.98 603.71,64.14 605.88,65.28 608.05,66.4 610.23,67.51 612.4,68.6"/>
<polyline stroke="#416dbc" points="410.6,67.54 413.63,69.14 416.65,70.71 419.68,72.27 422.71,73.81 425.74,75.33 428.76,76.84 431.79,78.33 434.82,79.82 437.84,81.3 440.87,82.77 443.9,84.24 446.92,85.71 449.95,87.17 452.98,88.62 456,90.08 459.03,91.53 462.06,92.98 465.09,94.44 468.11,95.89 471.14,97.35 474.17,98.81 477.19,100.27 480.22,101.74 483.25,103.21 486.27,104.68 489.3,106.17 492.33,107.66 495.36,109.17 498.38,110.69 501.41,112.22 504.44,113.77 507.46,115.33 510.49,116.93 513.52,118.55 516.54,120.2 519.57,121.9 522.6,123.64 525.63,125.45 528.65,127.34 531.68,129.33 534.82,131.53 537.63,133.66 540.15,135.74 542.4,137.79 544.43,139.81 546.24,141.82 547.87,143.82 549.33,145.81 550.64,147.8 551.81,149.77 552.86,151.71 553.8,153.62 554.64,155.48 555.4,157.27 556.08,159 556.69,160.64 557.23,162.19 557.72,163.64 558.16,164.99 558.55,166.24 558.9,167.39 559.22,168.44 559.5,169.4 559.76,170.28 559.98,171.07 560.19,171.79 560.37,172.44 560.53,173.03 560.68,173.56 560.81,174.03 560.93,174.46 561.03,174.84 561.13,175.19 561.21,175.5 561.29,175.78 561.36,176.03 561.42,176.25 561.48,176.45 561.52,176.63 561.57,176.8 561.61,176.94 561.64,177.07 561.68,177.19 561.7,177.29 561.73,177.39 561.75,177.47 561.77,177.55 561.79,177.61 561.81,177.68 561.82,177.73 561.84,177.78 561.85,177.82 561.86,177.86 561.87,177.9 561.88,177.93 561.88,177.96 561.89,177.98 561.9,178 561.9,178.02 561.91,178.04 561.91,178.06 561.92,178.07 561.92,178.09 561.92,178.1 561.93,178.11 561.93,178.12 561.93,178.13 561.93,178.13 561.93,178.14 561.94,178.15 561.94,178.15 561.94,178.16 561.94,178.16 561.94,178.17 561.94,178.17 561.94,178.17 561.94,178.18 561.94,178.18 561.94,178.18 561.95,178.18 561.95,178.18 561.95,178.19 561.95,178.19 561.95,178.19 561.95,178.19 561.95,178.19 561.95,178.19 561.95,178.19 561.95,178.19 561.95,178.19 561.95,178.19 561.95,178.2 561.95,178.2 561.95,178.2 561.95,178.2 561.95,178.2 561.95,178.2 561.95,178.2 561.95,178.2 561.95,178.2 561.95,178.2 561.95,178.2 561.95,178.2 561.95,178.2 561.95,178.2 561.95,178.2 561.95,178.2 561.95,178.2 561.95,178.2"/>
<polyline stroke="#416dbc" points="561.95,6.8 561.95,6.8 561.95,6.8 561.95,6.8 561.95,6.8 561.95,6.8 561.95,6.8 561.95,6.8 561.95,6.8 561.95,6.8 561.95,6.8 561.95,6.8 561.95,6.8 561.95,6.8 561.95,6.8 561.95,6.81 561.95,6.81 561.95,6.81 561.95,6.81 561.95,6.81 561.95,6.81 561.95,6.81 561.95,6.81 561.95,6.81 561.95,6.82 561.96,6.82 561.96,6.82 561.96,6.82 561.96,6.83 561.96,6.83 561.96,6.84 561.96,6.84 561.96,6.85 561.96,6.85 561.97,6.86 561.97,6.87 561.97,6.88 561.97,6.89 561.98,6.9 561.98,6.92 561.99,6.93 561.99,6.95 562,6.97 562,6.99 562.01,7.02 562.02,7.05 562.03,7.09 562.04,7.12 562.05,7.17 562.06,7.22 562.08,7.28 562.1,7.34 562.12,7.42 562.14,7.51 562.17,7.6 562.2,7.71 562.23,7.84 562.27,7.98 562.32,8.15 562.37,8.33 562.42,8.54 562.49,8.78 562.56,9.06 562.65,9.37 562.75,9.72 562.85,10.12 562.98,10.57 563.12,11.09 563.28,11.67 563.47,12.34 563.68,13.08 563.92,13.93 564.19,14.87 564.5,15.94 564.85,17.12 565.25,18.44 565.7,19.9 566.22,21.5 566.81,23.24 567.49,25.11 568.25,27.1 569.12,29.21 570.11,31.4 571.24,33.66 572.52,35.97 573.98,38.31 575.64,40.67 577.53,43.03 579.68,45.41 582.13,47.81 584.15,49.6 586.32,51.38 588.49,53.04 590.67,54.6 592.84,56.09 595.01,57.51 597.19,58.88 599.36,60.2 601.53,61.49 603.71,62.75 605.88,63.98 608.05,65.18 610.23,66.37 612.4,67.54"/>
<polyline stroke="#3f6ab6" points="410.6,66.57 413.63,68.25 416.65,69.91 419.68,71.54 422.71,73.14 425.74,74.73 428.76,76.3 431.79,77.85 434.82,79.39 437.84,80.93 440.87,82.45 443.9,83.97 446.92,85.49 449.95,86.99 452.98,88.5 456,90 459.03,91.5 462.06,93 465.09,94.5 468.11,96 471.14,97.5 474.17,99.01 477.19,100.52 480.22,102.04 483.25,103.56 486.27,105.09 489.3,106.63 492.33,108.18 495.36,109.75 498.38,111.33 501.41,112.93 504.44,114.55 507.46,116.19 510.49,117.86 513.52,119.57 516.54,121.32 519.57,123.13 522.6,124.99 525.63,126.93 528.65,128.96 531.68,131.12 534.82,133.51 537.63,135.84 540.15,138.12 542.4,140.36 544.43,142.57 546.24,144.74 547.87,146.89 549.33,149 550.64,151.07 551.81,153.09 552.86,155.04 553.8,156.92 554.64,158.71 555.4,160.4 556.08,161.99 556.69,163.48 557.23,164.86 557.72,166.13 558.16,167.3 558.55,168.36 558.9,169.34 559.22,170.22 559.5,171.03 559.76,171.75 559.98,172.41 560.19,173 560.37,173.53 560.53,174.01 560.68,174.44 560.81,174.83 560.93,175.17 561.03,175.49 561.13,175.77 561.21,176.02 561.29,176.24 561.36,176.45 561.42,176.63 561.48,176.79 561.52,176.94 561.57,177.07 561.61,177.18 561.64,177.29 561.68,177.38 561.7,177.47 561.73,177.54 561.75,177.61 561.77,177.67 561.79,177.73 561.81,177.78 561.82,177.82 561.84,177.86 561.85,177.89 561.86,177.93 561.87,177.95 561.88,177.98 561.88,178 561.89,178.02 561.9,178.04 561.9,178.06 561.91,178.07 561.91,178.09 561.92,178.1 561.92,178.11 561.92,178.12 561.93,178.13 561.93,178.13 561.93,178.14 561.93,178.15 561.93,178.15 561.94,178.16 561.94,178.16 561.94,178.17 561.94,178.17 561.94,178.17 561.94,178.18 561.94,178.18 561.94,178.18 561.94,178.18 561.94,178.18 561.95,178.19 561.95,178.19 561.95,178.19 561.95,178.19 561.95,178.19 561.95,178.19 561.95,178.19 561.95,178.19 561.95,178.19 561.95,178.19 561.95,178.2 561.95,178.2 561.95,178.2 561.95,178.2 561.95,178.2 561.95,178.2 561.95,178.2 561.95,178.2 561.95,178.2 561.95,178.2 561.95,178.2 561.95,178.2 561.95,178.2 561.95,178.2 561.95,178.2 561.95,178.2 561.95,178.2 561.95,178.2 561.95,178.2 561.95,178.2"/>
<polyline stroke="#3f6ab6" points="561.95,6.8 561.95,6.8 561.95,6.8 561.95,6.8 561.95,6.8 561.95,6.8 561.95,6.8 561.95,6.8 561.95,6.8 561.95,6.8 561.95,6.8 561.95,6.8 561.95,6.8 561.95,6.8 561.95,6.8 561.95,6.8 561.95,6.8 561.95,6.81 561.95,6.81 561.95,6.81 561.95,6.81 561.95,6.81 561.95,6.81 561.95,6.81 561.95,6.81 561.96,6.82 561.96,6.82 561.96,6.82 561.96,6.82 561.96,6.83 561.96,6.83 561.96,6.83 561.96,6.84 561.96,6.84 561.97,6.85 561.97,6.86 561.97,6.86 561.97,6.87 561.98,6.88 561.98,6.89 561.99,6.91 561.99,6.92 562,6.94 562,6.96 562.01,6.98 562.02,7 562.03,7.03 562.04,7.06 562.05,7.1 562.06,7.14 562.08,7.19 562.1,7.24 562.12,7.3 562.14,7.37 562.17,7.45 562.2,7.54 562.23,7.64 562.27,7.76 562.32,7.89 562.37,8.04 562.42,8.21 562.49,8.4 562.56,8.62 562.65,8.87 562.75,9.16 562.85,9.48 562.98,9.85 563.12,10.27 563.28,10.75 563.47,11.29 563.68,11.9 563.92,12.59 564.19,13.37 564.5,14.26 564.85,15.25 565.25,16.36 565.7,17.61 566.22,18.99 566.81,20.52 567.49,22.19 568.25,24.02 569.12,25.99 570.11,28.1 571.24,30.33 572.52,32.66 573.98,35.08 575.64,37.56 577.53,40.1 579.68,42.67 582.13,45.29 584.15,47.25 586.32,49.2 588.49,51.01 590.67,52.72 592.84,54.33 595.01,55.87 597.19,57.35 599.36,58.78 601.53,60.16 603.71,61.5 605.88,62.8 608.05,64.08 610.23,65.34 612.4,66.57"/>
<polyline stroke="#3d65af" points="410.6,65.69 413.63,67.45 416.65,69.17 419.68,70.87 422.71,72.53 425.74,74.18 428.76,75.8 431.79,77.41 434.82,79 437.84,80.59 440.87,82.16 443.9,83.72 446.92,85.28 449.95,86.83 452.98,88.38 456,89.93 459.03,91.47 462.06,93.01 465.09,94.56 468.11,96.1 471.14,97.65 474.17,99.2 477.19,100.76 480.22,102.32 483.25,103.89 486.27,105.47 489.3,107.06 492.33,108.66 495.36,110.28 498.38,111.92 501.41,113.58 504.44,115.26 507.46,116.97 510.49,118.72 513.52,120.51 516.54,122.34 519.57,124.24 522.6,126.2 525.63,128.25 528.65,130.41 531.68,132.7 534.82,135.25 537.63,137.73 540.15,140.15 542.4,142.52 544.43,144.84 546.24,147.11 547.87,149.33 549.33,151.48 550.64,153.56 551.81,155.55 552.86,157.45 553.8,159.25 554.64,160.94 555.4,162.52 556.08,163.98 556.69,165.34 557.23,166.58 557.72,167.72 558.16,168.75 558.55,169.7 558.9,170.55 559.22,171.32 559.5,172.02 559.76,172.65 559.98,173.22 560.19,173.73 560.37,174.19 560.53,174.6 560.68,174.97 560.81,175.3 560.93,175.6 561.03,175.87 561.13,176.11 561.21,176.33 561.29,176.52 561.36,176.7 561.42,176.85 561.48,176.99 561.52,177.12 561.57,177.23 561.61,177.33 561.64,177.42 561.68,177.5 561.7,177.57 561.73,177.64 561.75,177.7 561.77,177.75 561.79,177.79 561.81,177.84 561.82,177.87 561.84,177.91 561.85,177.94 561.86,177.97 561.87,177.99 561.88,178.01 561.88,178.03 561.89,178.05 561.9,178.06 561.9,178.08 561.91,178.09 561.91,178.1 561.92,178.11 561.92,178.12 561.92,178.13 561.93,178.14 561.93,178.14 561.93,178.15 561.93,178.15 561.93,178.16 561.94,178.16 561.94,178.17 561.94,178.17 561.94,178.17 561.94,178.18 561.94,178.18 561.94,178.18 561.94,178.18 561.94,178.18 561.94,178.19 561.95,178.19 561.95,178.19 561.95,178.19 561.95,178.19 561.95,178.19 561.95,178.19 561.95,178.19 561.95,178.19 561.95,178.19 561.95,178.2 561.95,178.2 561.95,178.2 561.95,178.2 561.95,178.2 561.95,178.2 561.95,178.2 561.95,178.2 561.95,178.2 561.95,178.2 561.95,178.2 561.95,178.2 561.95,178.2 561.95,178.2 561.95,178.2 561.95,178.2 561.95,178.2 561.95,178.2 561.95,178.2 561.95,178.2 561.95,178.2"/>
<polyline stroke="#3d65af" points="561.95,6.8 561.95,6.8 561.95,6.8 561.95,6.8 561.95,6.8 561.95,6.8 561.95,6.8 561.95,6.8 561.95,6.8 561.95,6.8 561.95,6.8 561.95,6.8 561.95,6.8 561.95,6.8 561.95,6.8 561.95,6.8 561.95,6.8 561.95,6.8 561.95,6.81 561.95,6.81 561.95,6.81 561.95,6.81 561.95,6.81 561.95,6.81 561.95,6.81 561.96,6.81 561.96,6.81 561.96,6.82 561.96,6.82 561.96,6.82 561.96,6.82 561.96,6.83 561.96,6.83 561.96,6.84 561.97,6.84 561.97,6.85 561.97,6.85 561.97,6.86 561.98,6.87 561.98,6.88 561.99,6.89 561.99,6.9 562,6.92 562,6.93 562.01,6.95 562.02,6.97 562.03,7 562.04,7.02 562.05,7.06 562.06,7.09 562.08,7.13 562.1,7.18 562.12,7.23 562.14,7.29 562.17,7.36 562.2,7.43 562.23,7.52 562.27,7.62 562.32,7.73 562.37,7.86 562.42,8.01 562.49,8.17 562.56,8.36 562.65,8.58 562.75,8.82 562.85,9.1 562.98,9.42 563.12,9.78 563.28,10.19 563.47,10.65 563.68,11.18 563.92,11.78 564.19,12.46 564.5,13.22 564.85,14.09 565.25,15.06 565.7,16.16 566.22,17.39 566.81,18.75 567.49,20.27 568.25,21.95 569.12,23.78 570.11,25.77 571.24,27.91 572.52,30.19 573.98,32.6 575.64,35.11 577.53,37.72 579.68,40.41 582.13,43.17 584.15,45.24 586.32,47.32 588.49,49.25 590.67,51.07 592.84,52.78 595.01,54.42 597.19,55.99 599.36,57.49 601.53,58.95 603.71,60.37 605.88,61.74 608.05,63.09 610.23,64.4 612.4,65.69"/>
<polyline stroke="#3a60a7" points="410.6,64.89 413.63,66.71 416.65,68.5 419.68,70.25 422.71,71.97 425.74,73.67 428.76,75.35 431.79,77 434.82,78.64 437.84,80.27 440.87,81.89 443.9,83.5 446.92,85.1 449.95,86.69 452.98,88.28 456,89.86 459.03,91.45 462.06,93.03 465.09,94.61 468.11,96.19 471.14,97.78 474.17,99.37 477.19,100.97 480.22,102.57 483.25,104.19 486.27,105.81 489.3,107.45 492.33,109.1 495.36,110.77 498.38,112.46 501.41,114.17 504.44,115.91 507.46,117.69 510.49,119.5 513.52,121.36 516.54,123.27 519.57,125.24 522.6,127.29 525.63,129.44 528.65,131.7 531.68,134.1 534.82,136.77 537.63,139.36 540.15,141.88 542.4,144.34 544.43,146.72 546.24,149.04 547.87,151.28 549.33,153.42 550.64,155.47 551.81,157.42 552.86,159.25 553.8,160.96 554.64,162.56 555.4,164.03 556.08,165.39 556.69,166.64 557.23,167.78 557.72,168.81 558.16,169.75 558.55,170.6 558.9,171.37 559.22,172.07 559.5,172.69 559.76,173.26 559.98,173.76 560.19,174.22 560.37,174.63 560.53,175 560.68,175.33 560.81,175.62 560.93,175.89 561.03,176.13 561.13,176.34 561.21,176.54 561.29,176.71 561.36,176.86 561.42,177 561.48,177.12 561.52,177.24 561.57,177.34 561.61,177.43 561.64,177.51 561.68,177.58 561.7,177.64 561.73,177.7 561.75,177.75 561.77,177.8 561.79,177.84 561.81,177.88 561.82,177.91 561.84,177.94 561.85,177.97 561.86,177.99 561.87,178.01 561.88,178.03 561.88,178.05 561.89,178.07 561.9,178.08 561.9,178.09 561.91,178.1 561.91,178.11 561.92,178.12 561.92,178.13 561.92,178.14 561.93,178.14 561.93,178.15 561.93,178.15 561.93,178.16 561.93,178.16 561.94,178.17 561.94,178.17 561.94,178.17 561.94,178.18 561.94,178.18 561.94,178.18 561.94,178.18 561.94,178.18 561.94,178.19 561.94,178.19 561.95,178.19 561.95,178.19 561.95,178.19 561.95,178.19 561.95,178.19 561.95,178.19 561.95,178.19 561.95,178.19 561.95,178.2 561.95,178.2 561.95,178.2 561.95,178.2 561.95,178.2 561.95,178.2 561.95,178.2 561.95,178.2 561.95,178.2 561.95,178.2 561.95,178.2 561.95,178.2 561.95,178.2 561.95,178.2 561.95,178.2 561.95,178.2 561.95,178.2 561.95,178.2 561.95,178.2 561.95,178.2 561.95,178.2 561.95,178.2"/>
<polyline stroke="#3a60a7" points="561.95,6.8 561.95,6.8 561.95,6.8 561.95,6.8 561.95,6.8 561.95,6.8 561.95,6.8 561.95,6.8 561.95,6.8 561.95,6.8 561.95,6.8 561.95,6.8 561.95,6.8 561.95,6.8 561.95,6.8 561.95,6.8 561.95,6.8 561.95,6.8 561.95,6.8 561.95,6.81 561.95,6.81 561.95,6.81 561.95,6.81 561.95,6.81 561.95,6.81 561.96,6.81 561.96,6.81 561.96,6.82 561.96,6.82 561.96,6.82 561.96,6.82 561.96,6.83 561.96,6.83 561.96,6.83 561.97,6.84 561.97,6.84 561.97,6.85 561.97,6.85 561.98,6.86 561.98,6.87 561.99,6.88 561.99,6.89 562,6.9 562,6.92 562.01,6.94 562.02,6.95 562.03,6.98 562.04,7 562.05,7.03 562.06,7.06 562.08,7.09 562.1,7.14 562.12,7.18 562.14,7.23 562.17,7.29 562.2,7.36 562.23,7.44 562.27,7.53 562.32,7.63 562.37,7.74 562.42,7.87 562.49,8.02 562.56,8.19 562.65,8.38 562.75,8.6 562.85,8.85 562.98,9.13 563.12,9.45 563.28,9.82 563.47,10.23 563.68,10.7 563.92,11.23 564.19,11.84 564.5,12.53 564.85,13.3 565.25,14.18 565.7,15.17 566.22,16.28 566.81,17.53 567.49,18.92 568.25,20.47 569.12,22.18 570.11,24.05 571.24,26.1 572.52,28.3 573.98,30.66 575.64,33.16 577.53,35.79 579.68,38.53 582.13,41.37 584.15,43.53 586.32,45.69 588.49,47.71 590.67,49.61 592.84,51.41 595.01,53.12 597.19,54.77 599.36,56.34 601.53,57.87 603.71,59.34 605.88,60.78 608.05,62.18 610.23,63.55 612.4,64.89"/>
<polyline stroke="#365b9e" points="410.6,64.15 413.63,66.04 416.65,67.88 419.68,69.69 422.71,71.46 425.74,73.2 428.76,74.93 431.79,76.63 434.82,78.31 437.84,79.98 440.87,81.64 443.9,83.28 446.92,84.92 449.95,86.55 452.98,88.18 456,89.8 459.03,91.42 462.06,93.04 465.09,94.66 468.11,96.28 471.14,97.9 474.17,99.53 477.19,101.17 480.22,102.81 483.25,104.47 486.27,106.13 489.3,107.81 492.33,109.5 495.36,111.22 498.38,112.96 501.41,114.72 504.44,116.51 507.46,118.34 510.49,120.21 513.52,122.13 516.54,124.11 519.57,126.15 522.6,128.28 525.63,130.5 528.65,132.85 531.68,135.33 534.82,138.1 537.63,140.77 540.15,143.37 542.4,145.88 544.43,148.3 546.24,150.63 547.87,152.86 549.33,154.98 550.64,156.98 551.81,158.87 552.86,160.63 553.8,162.27 554.64,163.78 555.4,165.17 556.08,166.44 556.69,167.6 557.23,168.65 557.72,169.61 558.16,170.48 558.55,171.26 558.9,171.97 559.22,172.6 559.5,173.18 559.76,173.69 559.98,174.16 560.19,174.57 560.37,174.95 560.53,175.28 560.68,175.58 560.81,175.85 560.93,176.1 561.03,176.31 561.13,176.51 561.21,176.68 561.29,176.84 561.36,176.98 561.42,177.11 561.48,177.22 561.52,177.32 561.57,177.41 561.61,177.49 561.64,177.57 561.68,177.63 561.7,177.69 561.73,177.74 561.75,177.79 561.77,177.83 561.79,177.87 561.81,177.91 561.82,177.94 561.84,177.96 561.85,177.99 561.86,178.01 561.87,178.03 561.88,178.05 561.88,178.06 561.89,178.08 561.9,178.09 561.9,178.1 561.91,178.11 561.91,178.12 561.92,178.13 561.92,178.14 561.92,178.14 561.93,178.15 561.93,178.15 561.93,178.16 561.93,178.16 561.93,178.17 561.94,178.17 561.94,178.17 561.94,178.18 561.94,178.18 561.94,178.18 561.94,178.18 561.94,178.18 561.94,178.19 561.94,178.19 561.94,178.19 561.95,178.19 561.95,178.19 561.95,178.19 561.95,178.19 561.95,178.19 561.95,178.19 561.95,178.19 561.95,178.2 561.95,178.2 561.95,178.2 561.95,178.2 561.95,178.2 561.95,178.2 561.95,178.2 561.95,178.2 561.95,178.2 561.95,178.2 561.95,178.2 561.95,178.2 561.95,178.2 561.95,178.2 561.95,178.2 561.95,178.2 561.95,178.2 561.95,178.2 561.95,178.2 561.95,178.2 561.95,178.2 561.95,178.2 561.95,178.2"/>
<polyline stroke="#365b9e" points="561.95,6.8 561.95,6.8 561.95,6.8 561.95,6.8 561.95,6.8 561.95,6.8 561.95,6.8 561.95,6.8 561.95,6.8 561.95,6.8 561.95,6.8 561.95,6.8 561.95,6.8 561.95,6.8 561.95,6.8 561.95,6.8 561.95,6.8 561.95,6.8 561.95,6.8 561.95,6.8 561.95,6.81 561.95,6.81 561.95,6.81 561.95,6.81 561.95,6.81 561.96,6.81 561.96,6.81 561.96,6.81 561.96,6.82 561.96,6.82 561.96,6.82 561.96,6.82 561.96,6.83 561.96,6.83 561.97,6.83 561.97,6.84 561.97,6.84 561.97,6.85 561.98,6.86 561.98,6.86 561.99,6.87 561.99,6.88 562,6.9 562,6.91 562.01,6.92 562.02,6.94 562.03,6.96 562.04,6.98 562.05,7.01 562.06,7.04 562.08,7.07 562.1,7.11 562.12,7.15 562.14,7.2 562.17,7.25 562.2,7.31 562.23,7.38 562.27,7.46 562.32,7.55 562.37,7.66 562.42,7.78 562.49,7.91 562.56,8.07 562.65,8.24 562.75,8.44 562.85,8.67 562.98,8.92 563.12,9.21 563.28,9.55 563.47,9.93 563.68,10.35 563.92,10.84 564.19,11.4 564.5,12.02 564.85,12.74 565.25,13.54 565.7,14.45 566.22,15.48 566.81,16.63 567.49,17.92 568.25,19.37 569.12,20.98 570.11,22.75 571.24,24.7 572.52,26.83 573.98,29.12 575.64,31.59 577.53,34.2 579.68,36.96 582.13,39.85 584.15,42.05 586.32,44.27 588.49,46.36 590.67,48.32 592.84,50.19 595.01,51.97 597.19,53.67 599.36,55.31 601.53,56.89 603.71,58.42 605.88,59.91 608.05,61.35 610.23,62.77 612.4,64.15"/>
<polyline stroke="#335594" points="410.6,63.48 413.63,65.42 416.65,67.31 419.68,69.17 422.71,70.99 425.74,72.77 428.76,74.54 431.79,76.28 434.82,78 437.84,79.71 440.87,81.4 443.9,83.09 446.92,84.76 449.95,86.43 452.98,88.09 456,89.74 459.03,91.4 462.06,93.05 465.09,94.7 468.11,96.36 471.14,98.02 474.17,99.68 477.19,101.35 480.22,103.03 483.25,104.72 486.27,106.43 489.3,108.14 492.33,109.88 495.36,111.64 498.38,113.42 501.41,115.22 504.44,117.06 507.46,118.94 510.49,120.86 513.52,122.84 516.54,124.87 519.57,126.98 522.6,129.17 525.63,131.46 528.65,133.88 531.68,136.44 534.82,139.27 537.63,142.01 540.15,144.65 542.4,147.19 544.43,149.62 546.24,151.95 547.87,154.15 549.33,156.24 550.64,158.2 551.81,160.02 552.86,161.72 553.8,163.28 554.64,164.72 555.4,166.04 556.08,167.24 556.69,168.33 557.23,169.32 557.72,170.22 558.16,171.03 558.55,171.76 558.9,172.42 559.22,173.01 559.5,173.54 559.76,174.02 559.98,174.45 560.19,174.84 560.37,175.18 560.53,175.5 560.68,175.78 560.81,176.03 560.93,176.25 561.03,176.45 561.13,176.63 561.21,176.8 561.29,176.94 561.36,177.07 561.42,177.19 561.48,177.29 561.52,177.39 561.57,177.47 561.61,177.55 561.64,177.61 561.68,177.67 561.7,177.73 561.73,177.78 561.75,177.82 561.77,177.86 561.79,177.9 561.81,177.93 561.82,177.96 561.84,177.98 561.85,178 561.86,178.02 561.87,178.04 561.88,178.06 561.88,178.07 561.89,178.09 561.9,178.1 561.9,178.11 561.91,178.12 561.91,178.13 561.92,178.13 561.92,178.14 561.92,178.15 561.93,178.15 561.93,178.16 561.93,178.16 561.93,178.17 561.93,178.17 561.94,178.17 561.94,178.18 561.94,178.18 561.94,178.18 561.94,178.18 561.94,178.18 561.94,178.19 561.94,178.19 561.94,178.19 561.94,178.19 561.95,178.19 561.95,178.19 561.95,178.19 561.95,178.19 561.95,178.19 561.95,178.19 561.95,178.2 561.95,178.2 561.95,178.2 561.95,178.2 561.95,178.2 561.95,178.2 561.95,178.2 561.95,178.2 561.95,178.2 561.95,178.2 561.95,178.2 561.95,178.2 561.95,178.2 561.95,178.2 561.95,178.2 561.95,178.2 561.95,178.2 561.95,178.2 561.95,178.2 561.95,178.2 561.95,178.2 561.95,178.2 561.95,178.2 561.95,178.2"/>
<polyline stroke="#335594" points="561.95,6.8 561.95,6.8 561.95,6.8 561.95,6.8 561.95,6.8 561.95,6.8 561.95,6.8 561.95,6.8 561.95,6.8 561.95,6.8 561.95,6.8 561.95,6.8 561.95,6.8 561.95,6.8 561.95,6.8 561.95,6.8 561.95,6.8 561.95,6.8 561.95,6.8 561.95,6.8 561.95,6.81 561.95,6.81 561.95,6.81 561.95,6.81 561.95,6.81 561.96,6.81 561.96,6.81 561.96,6.81 561.96,6.81 561.96,6.82 561.96,6.82 561.96,6.82 561.96,6.82 561.96,6.83 561.97,6.83 561.97,6.84 561.97,6.84 561.97,6.85 561.98,6.85 561.98,6.86 561.99,6.87 561.99,6.88 562,6.89 562,6.9 562.01,6.91 562.02,6.93 562.03,6.95 562.04,6.97 562.05,6.99 562.06,7.02 562.08,7.05 562.1,7.08 562.12,7.12 562.14,7.17 562.17,7.22 562.2,7.27 562.23,7.34 562.27,7.41 562.32,7.5 562.37,7.6 562.42,7.71 562.49,7.83 562.56,7.97 562.65,8.13 562.75,8.32 562.85,8.53 562.98,8.77 563.12,9.04 563.28,9.35 563.47,9.7 563.68,10.1 563.92,10.55 564.19,11.06 564.5,11.65 564.85,12.31 565.25,13.06 565.7,13.91 566.22,14.86 566.81,15.94 567.49,17.16 568.25,18.52 569.12,20.04 570.11,21.73 571.24,23.6 572.52,25.65 573.98,27.88 575.64,30.3 577.53,32.89 579.68,35.64 582.13,38.54 584.15,40.78 586.32,43.04 588.49,45.17 590.67,47.19 592.84,49.1 595.01,50.93 597.19,52.68 599.36,54.37 601.53,56 603.71,57.58 605.88,59.11 608.05,60.6 610.23,62.06 612.4,63.48"/>
<polyline stroke="#2e4e88" points="410.6,62.87 413.63,64.85 416.65,66.79 419.68,68.69 422.71,70.55 425.74,72.38 428.76,74.18 431.79,75.96 434.82,77.72 437.84,79.46 440.87,81.19 443.9,82.91 446.92,84.61 449.95,86.31 452.98,88 456,89.69 459.03,91.38 462.06,93.06 465.09,94.75 468.11,96.43 471.14,98.12 474.17,99.82 477.19,101.53 480.22,103.24 483.25,104.96 486.27,106.7 489.3,108.45 492.33,110.23 495.36,112.02 498.38,113.84 501.41,115.69 504.44,117.57 507.46,119.5 510.49,121.47 513.52,123.49 516.54,125.58 519.57,127.74 522.6,129.98 525.63,132.33 528.65,134.8 531.68,137.42 534.82,140.31 537.63,143.09 540.15,145.76 542.4,148.31 544.43,150.75 546.24,153.06 547.87,155.24 549.33,157.28 550.64,159.19 551.81,160.96 552.86,162.6 553.8,164.1 554.64,165.48 555.4,166.73 556.08,167.87 556.69,168.91 557.23,169.85 557.72,170.69 558.16,171.46 558.55,172.15 558.9,172.77 559.22,173.32 559.5,173.83 559.76,174.28 559.98,174.68 560.19,175.04 560.37,175.37 560.53,175.66 560.68,175.92 560.81,176.16 560.93,176.37 561.03,176.56 561.13,176.73 561.21,176.88 561.29,177.02 561.36,177.14 561.42,177.25 561.48,177.35 561.52,177.44 561.57,177.52 561.61,177.59 561.64,177.65 561.68,177.71 561.7,177.76 561.73,177.8 561.75,177.85 561.77,177.88 561.79,177.91 561.81,177.94 561.82,177.97 561.84,177.99 561.85,178.02 561.86,178.03 561.87,178.05 561.88,178.07 561.88,178.08 561.89,178.09 561.9,178.1 561.9,178.11 561.91,178.12 561.91,178.13 561.92,178.14 561.92,178.14 561.92,178.15 561.93,178.16 561.93,178.16 561.93,178.16 561.93,178.17 561.93,178.17 561.94,178.17 561.94,178.18 561.94,178.18 561.94,178.18 561.94,178.18 561.94,178.19 561.94,178.19 561.94,178.19 561.94,178.19 561.94,178.19 561.95,178.19 561.95,178.19 561.95,178.19 561.95,178.19 561.95,178.19 561.95,178.2 561.95,178.2 561.95,178.2 561.95,178.2 561.95,178.2 561.95,178.2 561.95,178.2 561.95,178.2 561.95,178.2 561.95,178.2 561.95,178.2 561.95,178.2 561.95,178.2 561.95,178.2 561.95,178.2 561.95,178.2 561.95,178.2 561.95,178.2 561.95,178.2 561.95,178.2 561.95,178.2 561.95,178.2 561.95,178.2 561.95,178.2 561.95,178.2"/>
<polyline stroke="#2e4e88" points="561.95,6.8 561.95,6.8 561.95,6.8 561.95,6.8 561.95,6.8 561.95,6.8 561.95,6.8 561.95,6.8 561.95,6.8 561.95,6.8 561.95,6.8 561.95,6.8 561.95,6.8 561.95,6.8 561.95,6.8 561.95,6.8 561.95,6.8 561.95,6.8 561.95,6.8 561.95,6.8 561.95,6.8 561.95,6.81 561.95,6.81 561.95,6.81 561.95,6.81 561.96,6.81 561.96,6.81 561.96,6.81 561.96,6.81 561.96,6.82 561.96,6.82 561.96,6.82 561.96,6.82 561.96,6.83 561.97,6.83 561.97,6.83 561.97,6.84 561.97,6.84 561.98,6.85 561.98,6.86 561.99,6.86 561.99,6.87 562,6.88 562,6.89 562.01,6.91 562.02,6.92 562.03,6.94 562.04,6.96 562.05,6.98 562.06,7 562.08,7.03 562.1,7.07 562.12,7.1 562.14,7.14 562.17,7.19 562.2,7.25 562.23,7.31 562.27,7.38 562.32,7.46 562.37,7.55 562.42,7.65 562.49,7.77 562.56,7.9 562.65,8.05 562.75,8.23 562.85,8.42 562.98,8.65 563.12,8.9 563.28,9.19 563.47,9.52 563.68,9.89 563.92,10.32 564.19,10.8 564.5,11.35 564.85,11.97 565.25,12.68 565.7,13.48 566.22,14.38 566.81,15.41 567.49,16.56 568.25,17.85 569.12,19.3 570.11,20.91 571.24,22.71 572.52,24.69 573.98,26.86 575.64,29.22 577.53,31.78 579.68,34.51 582.13,37.42 584.15,39.67 586.32,41.96 588.49,44.12 590.67,46.17 592.84,48.13 595.01,50 597.19,51.8 599.36,53.52 601.53,55.19 603.71,56.81 605.88,58.38 608.05,59.91 610.23,61.41 612.4,62.87"/>
<polyline stroke="#2a467c" points="410.6,62.3 413.63,64.33 416.65,66.31 419.68,68.24 422.71,70.14 425.74,72.01 428.76,73.84 431.79,75.66 434.82,77.45 437.84,79.23 440.87,80.99 443.9,82.73 446.92,84.47 449.95,86.2 452.98,87.92 456,89.64 459.03,91.36 462.06,93.07 465.09,94.79 468.11,96.5 471.14,98.22 474.17,99.95 477.19,101.69 480.22,103.43 483.25,105.19 486.27,106.96 489.3,108.74 492.33,110.55 495.36,112.38 498.38,114.23 501.41,116.12 504.44,118.04 507.46,120.01 510.49,122.02 513.52,124.09 516.54,126.22 519.57,128.42 522.6,130.72 525.63,133.12 528.65,135.64 531.68,138.3 534.82,141.23 537.63,144.04 540.15,146.73 542.4,149.29 544.43,151.71 546.24,154 547.87,156.15 549.33,158.15 550.64,160.02 551.81,161.74 552.86,163.32 553.8,164.77 554.64,166.09 555.4,167.29 556.08,168.39 556.69,169.38 557.23,170.27 557.72,171.08 558.16,171.8 558.55,172.46 558.9,173.05 559.22,173.58 559.5,174.05 559.76,174.48 559.98,174.86 560.19,175.21 560.37,175.52 560.53,175.8 560.68,176.04 560.81,176.27 560.93,176.47 561.03,176.65 561.13,176.81 561.21,176.95 561.29,177.08 561.36,177.2 561.42,177.3 561.48,177.39 561.52,177.48 561.57,177.55 561.61,177.62 561.64,177.68 561.68,177.73 561.7,177.78 561.73,177.82 561.75,177.86 561.77,177.9 561.79,177.93 561.81,177.96 561.82,177.98 561.84,178.01 561.85,178.03 561.86,178.04 561.87,178.06 561.88,178.07 561.88,178.09 561.89,178.1 561.9,178.11 561.9,178.12 561.91,178.13 561.91,178.13 561.92,178.14 561.92,178.15 561.92,178.15 561.93,178.16 561.93,178.16 561.93,178.17 561.93,178.17 561.93,178.17 561.94,178.18 561.94,178.18 561.94,178.18 561.94,178.18 561.94,178.18 561.94,178.19 561.94,178.19 561.94,178.19 561.94,178.19 561.94,178.19 561.95,178.19 561.95,178.19 561.95,178.19 561.95,178.19 561.95,178.19 561.95,178.2 561.95,178.2 561.95,178.2 561.95,178.2 561.95,178.2 561.95,178.2 561.95,178.2 561.95,178.2 561.95,178.2 561.95,178.2 561.95,178.2 561.95,178.2 561.95,178.2 561.95,178.2 561.95,178.2 561.95,178.2 561.95,178.2 561.95,178.2 561.95,178.2 561.95,178.2 561.95,178.2 561.95,178.2 561.95,178.2 561.95,178.2 561.95,178.2"/>
<polyline stroke="#2a467c" points="561.95,6.8 561.95,6.8 561.95,6.8 561.95,6.8 561.95,6.8 561.95,6.8 561.95,6.8 561.95,6.8 561.95,6.8 561.95,6.8 561.95,6.8 561.95,6.8 561.95,6.8 561.95,6.8 561.95,6.8 561.95,6.8 561.95,6.8 561.95,6.8 561.95,6.8 561.95,6.8 561.95,6.8 561.95,6.81 561.95,6.81 561.95,6.81 561.95,6.81 561.96,6.81 561.96,6.81 561.96,6.81 561.96,6.81 561.96,6.81 561.96,6.82 561.96,6.82 561.96,6.82 561.96,6.82 561.97,6.83 561.97,6.83 561.97,6.84 561.97,6.84 561.98,6.85 561.98,6.85 561.99,6.86 561.99,6.87 562,6.88 562,6.89 562.01,6.9 562.02,6.92 562.03,6.93 562.04,6.95 562.05,6.97 562.06,6.99 562.08,7.02 562.1,7.05 562.12,7.09 562.14,7.13 562.17,7.17 562.2,7.22 562.23,7.28 562.27,7.35 562.32,7.42 562.37,7.51 562.42,7.6 562.49,7.72 562.56,7.84 562.65,7.99 562.75,8.15 562.85,8.34 562.98,8.55 563.12,8.79 563.28,9.06 563.47,9.38 563.68,9.73 563.92,10.13 564.19,10.59 564.5,11.11 564.85,11.7 565.25,12.38 565.7,13.14 566.22,14 566.81,14.97 567.49,16.07 568.25,17.3 569.12,18.69 570.11,20.25 571.24,21.98 572.52,23.89 573.98,26.01 575.64,28.32 577.53,30.83 579.68,33.55 582.13,36.45 584.15,38.7 586.32,41.01 588.49,43.19 590.67,45.27 592.84,47.26 595.01,49.16 597.19,50.99 599.36,52.76 601.53,54.46 603.71,56.11 605.88,57.72 608.05,59.28 610.23,60.81 612.4,62.3"/>
</g>
<circle cx="459.6" cy="91.4" r="3.7" fill="#000"/>
<circle cx="561.2" cy="91.3" r="3.2" fill="#fff" stroke="#000" stroke-width="1.4"/>
<rect x="634.5" y="18.1" width="22.4" height="144.9" fill="#d5d8eb"/>
<rect x="634.5" y="18.1" width="22.4" height="138.02" fill="#c8cee7"/>
<rect x="634.5" y="18.1" width="22.4" height="131.14" fill="#bbc4e3"/>
<rect x="634.5" y="18.1" width="22.4" height="124.26" fill="#afbbe0"/>
<rect x="634.5" y="18.1" width="22.4" height="117.38" fill="#a2b1dc"/>
<rect x="634.5" y="18.1" width="22.4" height="110.5" fill="#95a7d8"/>
<rect x="634.5" y="18.1" width="22.4" height="103.62" fill="#889dd4"/>
<rect x="634.5" y="18.1" width="22.4" height="96.74" fill="#7c94d1"/>
<rect x="634.5" y="18.1" width="22.4" height="89.86" fill="#6f8acd"/>
<rect x="634.5" y="18.1" width="22.4" height="82.98" fill="#6280c9"/>
<rect x="634.5" y="18.1" width="22.4" height="76.1" fill="#4472c4"/>
<rect x="634.5" y="18.1" width="22.4" height="69.18" fill="#416ebd"/>
<rect x="634.5" y="18.1" width="22.4" height="62.26" fill="#3f69b6"/>
<rect x="634.5" y="18.1" width="22.4" height="55.35" fill="#3c65ae"/>
<rect x="634.5" y="18.1" width="22.4" height="48.43" fill="#3a60a7"/>
<rect x="634.5" y="18.1" width="22.4" height="41.51" fill="#375ca0"/>
<rect x="634.5" y="18.1" width="22.4" height="34.59" fill="#345899"/>
<rect x="634.5" y="18.1" width="22.4" height="27.67" fill="#325392"/>
<rect x="634.5" y="18.1" width="22.4" height="20.75" fill="#2f4f8a"/>
<rect x="634.5" y="18.1" width="22.4" height="13.84" fill="#2d4a83"/>
<rect x="634.5" y="18.1" width="22.4" height="6.92" fill="#2a467c"/>
</g>
<g id="pc">
<rect x="101.4" y="274.0" width="196.8" height="165.9" fill="none" stroke="#595959" stroke-width="1.35"/>
<path d="M101.4 274.0 V439.9 H298.2" fill="none" stroke="#111" stroke-width="1.35" stroke-linejoin="round"/>
<line x1="101.4" y1="439.9" x2="106.4" y2="439.9" stroke="#111" stroke-width="1.3"/>
<line x1="101.4" y1="398.42" x2="106.4" y2="398.42" stroke="#111" stroke-width="1.3"/>
<line x1="101.4" y1="356.95" x2="106.4" y2="356.95" stroke="#111" stroke-width="1.3"/>
<line x1="101.4" y1="315.48" x2="106.4" y2="315.48" stroke="#111" stroke-width="1.3"/>
<line x1="101.4" y1="274" x2="106.4" y2="274" stroke="#111" stroke-width="1.3"/>
<line x1="101.4" y1="439.9" x2="101.4" y2="435.1" stroke="#111" stroke-width="1.3"/>
<line x1="167" y1="439.9" x2="167" y2="435.1" stroke="#111" stroke-width="1.3"/>
<line x1="232.6" y1="439.9" x2="232.6" y2="435.1" stroke="#111" stroke-width="1.3"/>
<line x1="298.2" y1="439.9" x2="298.2" y2="435.1" stroke="#111" stroke-width="1.3"/>
<line x1="232.6" y1="439.9" x2="232.6" y2="274.0" stroke="#222" stroke-width="1.4" stroke-dasharray="4.2 3.33"/>
<polyline fill="none" stroke="#4472c4" stroke-width="2.4" stroke-linejoin="round" stroke-linecap="round" points="101.4,439.37 102.05,439.36 102.71,439.35 103.36,439.33 104.01,439.32 104.66,439.31 105.32,439.29 105.97,439.28 106.62,439.27 107.27,439.25 107.93,439.24 108.58,439.22 109.23,439.2 109.89,439.19 110.54,439.17 111.19,439.16 111.84,439.14 112.5,439.12 113.15,439.1 113.8,439.08 114.45,439.06 115.11,439.05 115.76,439.03 116.41,439.01 117.06,438.98 117.72,438.96 118.37,438.94 119.02,438.92 119.68,438.9 120.33,438.87 120.98,438.85 121.63,438.83 122.29,438.8 122.94,438.78 123.59,438.75 124.24,438.72 124.9,438.7 125.55,438.67 126.2,438.64 126.86,438.61 127.51,438.58 128.16,438.55 128.81,438.52 129.47,438.49 130.12,438.45 130.77,438.42 131.42,438.38 132.08,438.35 132.73,438.31 133.38,438.28 134.04,438.24 134.69,438.2 135.34,438.16 135.99,438.12 136.65,438.08 137.3,438.04 137.95,437.99 138.6,437.95 139.26,437.91 139.91,437.86 140.56,437.81 141.21,437.76 141.87,437.71 142.52,437.66 143.17,437.61 143.83,437.56 144.48,437.5 145.13,437.45 145.78,437.39 146.44,437.33 147.09,437.27 147.74,437.21 148.39,437.15 149.05,437.09 149.7,437.02 150.35,436.95 151.01,436.89 151.66,436.82 152.31,436.74 152.96,436.67 153.62,436.6 154.27,436.52 154.92,436.44 155.57,436.36 156.23,436.28 156.88,436.2 157.53,436.11 158.19,436.02 158.84,435.93 159.49,435.84 160.14,435.74 160.8,435.65 161.45,435.55 162.1,435.45 162.75,435.34 163.41,435.24 164.06,435.13 164.71,435.02 165.36,434.91 166.02,434.79 166.67,434.67 167.32,434.55 167.98,434.43 168.63,434.3 169.28,434.17 169.93,434.03 170.59,433.9 171.24,433.76 171.89,433.62 172.54,433.47 173.2,433.32 173.85,433.17 174.5,433.01 175.16,432.85 175.81,432.68 176.46,432.52 177.11,432.34 177.77,432.17 178.42,431.99 179.07,431.8 179.72,431.61 180.38,431.42 181.03,431.22 181.68,431.02 182.34,430.81 182.99,430.6 183.64,430.38 184.29,430.15 184.95,429.93 185.6,429.69 186.25,429.45 186.9,429.21 187.56,428.96 188.21,428.7 188.86,428.43 189.51,428.16 190.17,427.89 190.82,427.6 191.47,427.31 192.13,427.02 192.78,426.71 193.43,426.4 194.08,426.08 194.74,425.75 195.39,425.41 196.04,425.07 196.69,424.72 197.35,424.35 198,423.98 198.65,423.6 199.31,423.21 199.96,422.81 200.61,422.4 201.26,421.98 201.92,421.55 202.57,421.1 203.22,420.65 203.87,420.18 204.53,419.7 205.18,419.2 205.83,418.7 206.49,418.18 207.14,417.64 207.79,417.09 208.44,416.53 209.1,415.94 209.75,415.35 210.4,414.73 211.05,414.1 211.71,413.44 212.36,412.77 213.01,412.08 213.67,411.36 214.32,410.63 214.97,409.87 215.62,409.08 216.28,408.27 216.93,407.43 217.58,406.56 218.23,405.66 218.89,404.72 219.54,403.75 220.19,402.75 220.84,401.7 221.5,400.61 222.15,399.47 222.8,398.28 223.46,397.04 224.11,395.73 224.76,394.35 225.41,392.9 226.07,391.36 226.72,389.73 227.37,387.97 228.02,386.08 228.68,384.03 229.33,381.77 229.98,379.24 230.64,376.34 231.29,372.85 231.44,371.9 231.64,370.61 231.8,369.43 231.93,368.36 232.04,367.37 232.13,366.48 232.21,365.66 232.28,364.91 232.33,364.22 232.37,363.6 232.41,363.03 232.44,362.5 232.47,362.03 232.49,361.59 232.51,361.19 232.52,360.83 232.54,360.49 232.55,360.19 232.56,359.91 232.56,359.66 232.57,359.43 232.57,359.21 232.58,359.02 232.58,358.84 232.58,358.68 232.59,358.53 232.59,358.39 232.59,358.27 232.59,358.16 232.59,358.05 232.59,357.96 232.6,357.87 232.6,357.79 232.6,357.72 232.6,357.65 232.6,357.59 232.6,357.54 232.6,357.49 232.6,357.44 232.6,357.4 232.6,357.36 232.6,357.33 232.6,357.29 232.6,357.26 232.6,357.24 232.6,357.21 232.6,357.19 232.6,357.17 232.6,357.15 232.6,357.13 232.6,357.12 232.6,357.1 232.6,357.09 232.6,357.08 232.6,357.07 232.6,357.06 232.6,357.05 232.6,357.04 232.6,357.03 232.6,357.02 232.9,356.95 232.9,275.3 298.2,275.3"/>
<polyline fill="none" stroke="#ff0000" stroke-width="2.6" stroke-linejoin="round" stroke-linecap="round" points="101.4,439.07 102.16,439.05 102.92,439.03 103.68,439 104.44,438.98 105.2,438.95 105.96,438.93 106.72,438.9 107.48,438.87 108.24,438.85 109,438.82 109.76,438.79 110.52,438.76 111.28,438.73 112.04,438.69 112.8,438.66 113.56,438.63 114.32,438.59 115.08,438.56 115.84,438.52 116.6,438.49 117.36,438.45 118.12,438.41 118.88,438.37 119.64,438.33 120.4,438.28 121.16,438.24 121.92,438.2 122.68,438.15 123.44,438.1 124.2,438.05 124.96,438 125.72,437.95 126.47,437.9 127.23,437.85 127.99,437.79 128.75,437.73 129.51,437.67 130.27,437.61 131.03,437.55 131.79,437.49 132.55,437.42 133.31,437.36 134.07,437.29 134.83,437.22 135.59,437.15 136.35,437.07 137.11,436.99 137.87,436.92 138.63,436.83 139.39,436.75 140.15,436.67 140.91,436.58 141.67,436.49 142.43,436.4 143.19,436.3 143.95,436.21 144.71,436.11 145.47,436 146.23,435.9 146.99,435.79 147.75,435.68 148.51,435.56 149.27,435.45 150.03,435.33 150.79,435.2 151.55,435.08 152.31,434.94 153.07,434.81 153.83,434.67 154.59,434.53 155.35,434.39 156.11,434.24 156.87,434.08 157.63,433.93 158.39,433.76 159.15,433.6 159.91,433.43 160.67,433.25 161.43,433.07 162.19,432.89 162.95,432.7 163.71,432.5 164.47,432.3 165.23,432.1 165.99,431.89 166.75,431.67 167.51,431.45 168.27,431.22 169.03,430.98 169.79,430.74 170.55,430.49 171.31,430.24 172.07,429.97 172.83,429.7 173.59,429.43 174.35,429.14 175.11,428.85 175.86,428.55 176.62,428.24 177.38,427.93 178.14,427.6 178.9,427.27 179.66,426.92 180.42,426.57 181.18,426.21 181.94,425.83 182.7,425.45 183.46,425.06 184.22,424.65 184.98,424.24 185.74,423.81 186.5,423.37 187.26,422.92 188.02,422.45 188.78,421.98 189.54,421.49 190.3,420.98 191.06,420.46 191.82,419.93 192.58,419.38 193.34,418.82 194.1,418.24 194.86,417.64 195.62,417.03 196.38,416.4 197.14,415.75 197.9,415.08 198.66,414.4 199.42,413.69 200.18,412.96 200.94,412.21 201.7,411.44 202.46,410.65 203.22,409.83 203.98,408.99 204.74,408.12 205.5,407.23 206.26,406.31 207.02,405.36 207.78,404.38 208.54,403.37 209.3,402.33 210.06,401.25 210.82,400.14 211.58,399 212.34,397.81 213.1,396.59 213.86,395.33 214.62,394.02 215.38,392.67 216.14,391.27 216.9,389.81 217.66,388.31 218.42,386.75 219.18,385.13 219.94,383.44 220.7,381.69 221.46,379.86 222.22,377.96 222.98,375.97 223.74,373.88 224.49,371.7 225.25,369.4 226.01,366.98 226.77,364.42 227.53,361.7 228.29,358.79 229.05,355.66 229.81,352.25 230.57,348.49 231.33,344.23 232.09,339.1 232.85,331.57 233.61,326.06 234.37,321.78 235.13,318.15 235.89,314.98 236.65,312.15 237.41,309.6 238.17,307.29 238.93,305.17 239.69,303.22 240.45,301.42 241.21,299.76 241.97,298.21 242.73,296.78 243.49,295.44 244.25,294.19 245.01,293.03 245.77,291.94 246.53,290.92 247.29,289.96 248.05,289.06 248.81,288.22 249.57,287.43 250.33,286.68 251.09,285.98 251.85,285.32 252.61,284.7 253.37,284.12 254.13,283.57 254.89,283.05 255.65,282.56 256.41,282.1 257.17,281.66 257.93,281.25 258.69,280.86 259.45,280.49 260.21,280.14 260.97,279.82 261.73,279.51 262.49,279.21 263.25,278.93 264.01,278.67 264.77,278.42 265.53,278.19 266.29,277.97 267.05,277.76 267.81,277.56 268.57,277.37 269.33,277.19 270.09,277.03 270.85,276.87 271.61,276.72 272.37,276.57 273.13,276.44 273.88,276.31 274.64,276.19 275.4,276.07 276.16,275.97 276.92,275.86 277.68,275.77 278.44,275.67 279.2,275.59 279.96,275.5 280.72,275.42 281.48,275.35 282.24,275.28 283,275.21 283.76,275.15 284.52,275.09 285.28,275.03 286.04,274.98 286.8,274.93 287.56,274.88 288.32,274.83 289.08,274.79 289.84,274.75 290.6,274.71 291.36,274.67 292.12,274.64 292.88,274.6 293.64,274.57 294.4,274.54 295.16,274.51 295.92,274.49 296.68,274.46 297.44,274.44 298.2,274.42"/>
</g>
<g id="pd">
<rect x="407.3" y="274.2" width="206.3" height="165.7" fill="none" stroke="#595959" stroke-width="1.35"/>
<path d="M407.3 274.2 V439.9 H613.6" fill="none" stroke="#111" stroke-width="1.35" stroke-linejoin="round"/>
<line x1="407.3" y1="439.9" x2="412.3" y2="439.9" stroke="#111" stroke-width="1.3"/>
<line x1="407.3" y1="398.47" x2="412.3" y2="398.47" stroke="#111" stroke-width="1.3"/>
<line x1="407.3" y1="357.05" x2="412.3" y2="357.05" stroke="#111" stroke-width="1.3"/>
<line x1="407.3" y1="315.62" x2="412.3" y2="315.62" stroke="#111" stroke-width="1.3"/>
<line x1="407.3" y1="274.2" x2="412.3" y2="274.2" stroke="#111" stroke-width="1.3"/>
<line x1="407.3" y1="439.9" x2="407.3" y2="435.1" stroke="#111" stroke-width="1.3"/>
<line x1="476.07" y1="439.9" x2="476.07" y2="435.1" stroke="#111" stroke-width="1.3"/>
<line x1="544.83" y1="439.9" x2="544.83" y2="435.1" stroke="#111" stroke-width="1.3"/>
<line x1="613.6" y1="439.9" x2="613.6" y2="435.1" stroke="#111" stroke-width="1.3"/>
<line x1="544.83" y1="439.9" x2="544.83" y2="274.2" stroke="#222" stroke-width="1.4" stroke-dasharray="4.2 3.33"/>
<polyline fill="none" stroke="#4472c4" stroke-width="2.4" stroke-linejoin="round" points="407.3,274.46 408.43,274.47 409.55,274.48 410.68,274.5 411.81,274.51 412.93,274.52 414.06,274.53 415.19,274.54 416.31,274.56 417.44,274.57 418.57,274.58 419.7,274.6 420.82,274.61 421.95,274.63 423.08,274.65 424.2,274.66 425.33,274.68 426.46,274.7 427.58,274.72 428.71,274.74 429.84,274.76 430.96,274.78 432.09,274.8 433.22,274.83 434.34,274.85 435.47,274.88 436.6,274.9 437.72,274.93 438.85,274.96 439.98,274.99 441.11,275.02 442.23,275.05 443.36,275.08 444.49,275.12 445.61,275.15 446.74,275.19 447.87,275.23 448.99,275.27 450.12,275.31 451.25,275.35 452.37,275.39 453.5,275.44 454.63,275.49 455.75,275.54 456.88,275.59 458.01,275.64 459.14,275.7 460.26,275.75 461.39,275.81 462.52,275.88 463.64,275.94 464.77,276.01 465.9,276.08 467.02,276.15 468.15,276.23 469.28,276.3 470.4,276.38 471.53,276.47 472.66,276.56 473.78,276.65 474.91,276.74 476.04,276.84 477.16,276.94 478.29,277.05 479.42,277.16 480.55,277.27 481.67,277.39 482.8,277.51 483.93,277.64 485.05,277.77 486.18,277.91 487.31,278.06 488.43,278.21 489.56,278.36 490.69,278.52 491.81,278.69 492.94,278.86 494.07,279.05 495.19,279.23 496.32,279.43 497.45,279.63 498.57,279.85 499.7,280.07 500.83,280.3 501.96,280.54 503.08,280.78 504.21,281.04 505.34,281.31 506.46,281.59 507.59,281.89 508.72,282.19 509.84,282.51 510.97,282.84 512.1,283.19 513.22,283.55 514.35,283.92 515.48,284.31 516.6,284.73 517.73,285.15 518.86,285.6 519.98,286.07 521.11,286.57 522.24,287.08 523.37,287.62 524.49,288.19 525.62,288.79 526.75,289.42 527.87,290.09 529,290.79 530.13,291.54 531.25,292.33 532.38,293.18 533.51,294.08 534.63,295.05 535.76,296.09 536.89,297.23 538.01,298.47 539.14,299.85 540.27,301.41 541.39,303.21 541.69,303.73 542.13,304.58 542.51,305.37 542.84,306.1 543.12,306.77 543.36,307.4 543.56,307.98 543.74,308.52 543.89,309.02 544.02,309.49 544.13,309.92 544.23,310.32 544.31,310.7 544.38,311.05 544.44,311.37 544.5,311.67 544.54,311.95 544.58,312.21 544.62,312.45 544.65,312.67 544.67,312.88 544.69,313.07 544.71,313.25 544.73,313.42 544.74,313.57 544.76,313.72 544.77,313.85 544.77,313.98 544.78,314.09 544.79,314.2 544.8,314.3 544.8,314.39 544.81,314.48 544.81,314.56 544.81,314.63 544.82,314.7 544.82,314.77 544.82,314.83 544.82,314.89 544.82,314.94 544.82,314.99 544.83,315.03 544.83,315.07 544.83,315.11 544.83,315.15 544.83,315.18 544.83,315.21 544.83,315.24 544.83,315.27 544.83,315.29 544.83,315.32 544.83,315.34 544.83,315.36 544.83,315.38 544.83,315.39 544.83,315.41 544.83,315.43 544.83,315.44 544.83,315.45 544.83,315.46 544.83,315.48 544.83,315.49 544.83,315.5 544.83,315.51 544.83,315.51 544.83,315.52 544.83,315.53 544.83,315.54 544.83,315.54 544.83,315.55 544.83,315.55 544.83,315.56 544.83,315.56 544.83,315.57 544.83,315.57 544.83,315.58 544.83,315.58 544.83,315.58 544.83,315.58 544.83,315.59 544.83,315.62 613.6,315.62"/>
<line x1="407.3" y1="398.47" x2="613.6" y2="398.47" stroke="#ff0000" stroke-width="2.6"/>
</g>
<g id="txt" font-family="Liberation Sans, sans-serif">
<text transform="translate(4.77,27.1)" font-size="21.0" font-weight="bold">a</text>
<text transform="translate(301.27,27.1)" font-size="21.0" font-weight="bold">b</text>
<text transform="translate(4.88,231.2)" font-size="21.0" font-weight="bold">c</text>
<text transform="translate(337.45,247.9)" font-size="21.0" font-weight="bold">d</text>
<text transform="translate(178.97,116.7)" font-size="20.0" font-style="italic" fill="#111">θ</text>
<text transform="translate(374.6,12.4) scale(1.0053,1)" font-size="16.0">0.5</text>
<text transform="translate(365.6,55.25) scale(1.0053,1)" font-size="16.0">0.25</text>
<text transform="translate(387.6,98.1) scale(1.0053,1)" font-size="16.0">0</text>
<text transform="translate(360.2,140.95) scale(1.0053,1)" font-size="16.0">-0.25</text>
<text transform="translate(369.2,183.8) scale(1.0053,1)" font-size="16.0">-0.5</text>
<text transform="translate(405.85,202.9) scale(1.0053,1)" font-size="16.0">0</text>
<text transform="translate(445.36,202.9) scale(1.0053,1)" font-size="16.0">0.25</text>
<text transform="translate(500.4,202.9) scale(1.0053,1)" font-size="16.0">0.5</text>
<text transform="translate(546.34,202.9) scale(1.0053,1)" font-size="16.0">0.75</text>
<text transform="translate(609.17,202.9) scale(1.0053,1)" font-size="16.0">1</text>
<text transform="translate(433.17,230.0) scale(1.0178,1)" font-size="20.3">Phase &#160;(rad/2<tspan font-family="Liberation Serif, serif" font-style="italic" font-size="22">π</tspan>)</text>
<text transform="translate(351.4,180.03) rotate(-90) scale(1.0098,1)" font-size="20.3">Phase shift (rad/2<tspan font-family="Liberation Serif, serif" font-style="italic" font-size="22">π</tspan>)</text>
<text transform="translate(639.0,0.76) rotate(90)" font-size="21.3">2</text>
<text transform="translate(638.6,169.84) rotate(90)" font-size="21.3">0</text>
<text transform="translate(670.3,27.83) rotate(90) scale(1.0095,1)" font-size="20.3">Input strength</text>
<text transform="translate(79.64,279.6) scale(1.0053,1)" font-size="16.0">1</text>
<text transform="translate(56.06,321.08) scale(1.0053,1)" font-size="16.0">0.75</text>
<text transform="translate(64.86,362.55) scale(1.0053,1)" font-size="16.0">0.5</text>
<text transform="translate(56.06,404.02) scale(1.0053,1)" font-size="16.0">0.25</text>
<text transform="translate(78.24,445.5) scale(1.0053,1)" font-size="16.0">0</text>
<text transform="translate(86.0,464.3) scale(1.0053,1)" font-size="16.0">0.01</text>
<text transform="translate(156.09,464.3) scale(1.0053,1)" font-size="16.0">0.1</text>
<text transform="translate(229.65,464.3) scale(1.0053,1)" font-size="16.0">1</text>
<text transform="translate(289.09,464.3) scale(1.0053,1)" font-size="16.0">10</text>
<text transform="translate(144.27,265.6) scale(0.985,1)" font-size="16.0">Type-1</text>
<text transform="translate(241.87,266.7) scale(0.9988,1)" font-size="16.0">Type-0</text>
<text transform="translate(109.52,299.0) scale(1.0041,1)" font-size="16.0" fill="#4472c4">PRC amplitude</text>
<text transform="translate(109.16,324.0) scale(1.0053,1)" font-size="16.0" fill="#ff0000">SR amplitude</text>
<text transform="translate(16.4,468.95) rotate(-90) scale(1.0017,1)" font-size="20.3">PRC amplitude (rad/2<tspan font-family="Liberation Serif, serif" font-style="italic" font-size="22">π</tspan>),</text>
<text transform="translate(40.6,420.55) rotate(-90) scale(1.0056,1)" font-size="20.3">SR amplitude</text>
<text transform="translate(386.14,279.8) scale(1.0053,1)" font-size="16.0">1</text>
<text transform="translate(362.36,321.23) scale(1.0053,1)" font-size="16.0">0.75</text>
<text transform="translate(371.0,362.65) scale(1.0053,1)" font-size="16.0">0.5</text>
<text transform="translate(362.36,404.07) scale(1.0053,1)" font-size="16.0">0.25</text>
<text transform="translate(384.73,445.5) scale(1.0053,1)" font-size="16.0">0</text>
<text transform="translate(391.87,464.4) scale(1.0053,1)" font-size="16.0">0.01</text>
<text transform="translate(465.17,464.4) scale(1.0053,1)" font-size="16.0">0.1</text>
<text transform="translate(542.01,464.4) scale(1.0053,1)" font-size="16.0">1</text>
<text transform="translate(604.44,464.4) scale(1.0053,1)" font-size="16.0">10</text>
<text transform="translate(448.15,266.0) scale(0.985,1)" font-size="16.0">Type-1</text>
<text transform="translate(555.33,265.75) scale(0.9908,1)" font-size="16.0">Type-0</text>
<text transform="translate(417.11,301.1) scale(1.0079,1)" font-size="16.0" fill="#4472c4">Phase at the</text>
<text transform="translate(417.51,319.9) scale(1.0013,1)" font-size="16.0" fill="#4472c4">max phase shift</text>
<text transform="translate(432.65,422.7) scale(1.0116,1)" font-size="16.0" fill="#ff0000">SR phase</text>
<text transform="translate(349.8,421.47) rotate(-90) scale(1.0088,1)" font-size="20.3">Phase (rad/2<tspan font-family="Liberation Serif, serif" font-style="italic" font-size="22">π</tspan>)</text>
<text transform="translate(281.37,493.3) scale(1.013,1)" font-size="20.3">Input strength</text>
</g>
</svg>
</body></html>
